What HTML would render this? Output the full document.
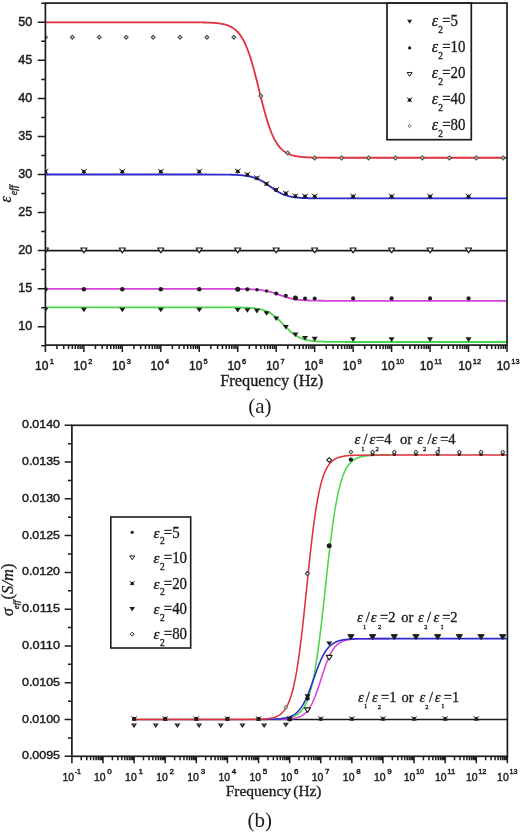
<!DOCTYPE html><html><head><meta charset="utf-8"><title>Effective permittivity and conductivity vs frequency</title><style>html,body{margin:0;padding:0;background:#fff;}svg{display:block;}</style></head><body>
<svg width="520" height="832" viewBox="0 0 520 832">
<rect width="520" height="832" fill="#fff"/>
<defs><clipPath id="ca"><rect x="45.4" y="3.1" width="461.6" height="342"/></clipPath><clipPath id="cb"><rect x="71.9" y="425.3" width="435.5" height="331"/></clipPath></defs>
<path d="M45.4,22.3 L64.63,22.3 L83.87,22.3 L103.1,22.3 L122.33,22.3 L141.57,22.3 L160.8,22.3 L180.03,22.31 L199.27,22.41 L200.04,22.42 L200.81,22.43 L201.57,22.44 L202.34,22.45 L203.11,22.47 L203.88,22.48 L204.65,22.5 L205.42,22.52 L206.19,22.54 L206.96,22.56 L207.73,22.59 L208.5,22.62 L209.27,22.65 L210.04,22.68 L210.81,22.72 L211.58,22.76 L212.35,22.8 L213.11,22.85 L213.88,22.9 L214.65,22.96 L215.42,23.02 L216.19,23.09 L216.96,23.17 L217.73,23.25 L218.5,23.34 L219.27,23.44 L220.04,23.55 L220.81,23.67 L221.58,23.8 L222.35,23.95 L223.12,24.1 L223.89,24.27 L224.65,24.46 L225.42,24.67 L226.19,24.89 L226.96,25.14 L227.73,25.4 L228.5,25.69 L229.27,26.01 L230.04,26.36 L230.81,26.74 L231.58,27.15 L232.35,27.6 L233.12,28.09 L233.89,28.62 L234.66,29.2 L235.43,29.83 L236.19,30.52 L236.96,31.26 L237.73,32.06 L238.5,32.93 L239.27,33.86 L240.04,34.87 L240.81,35.97 L241.58,37.14 L242.35,38.4 L243.12,39.75 L243.89,41.2 L244.66,42.75 L245.43,44.4 L246.2,46.16 L246.97,48.02 L247.73,50 L248.5,52.08 L249.27,54.28 L250.04,56.58 L250.81,58.99 L251.58,61.51 L252.35,64.12 L253.12,66.83 L253.89,69.63 L254.66,72.5 L255.43,75.45 L256.2,78.45 L256.97,81.5 L257.74,84.58 L258.51,87.69 L259.27,90.81 L260.04,93.92 L260.81,97.02 L261.58,100.09 L262.35,103.12 L263.12,106.09 L263.89,109 L264.66,111.84 L265.43,114.59 L266.2,117.25 L266.97,119.82 L267.74,122.28 L268.51,124.64 L269.28,126.89 L270.05,129.03 L270.81,131.06 L271.58,132.98 L272.35,134.79 L273.12,136.49 L273.89,138.09 L274.66,139.59 L275.43,140.99 L276.2,142.3 L276.97,143.52 L277.74,144.65 L278.51,145.7 L279.28,146.67 L280.05,147.58 L280.82,148.41 L281.59,149.18 L282.35,149.89 L283.12,150.55 L283.89,151.15 L284.66,151.71 L285.43,152.22 L286.2,152.69 L286.97,153.12 L287.74,153.51 L288.51,153.87 L289.28,154.21 L290.05,154.51 L290.82,154.79 L291.59,155.05 L292.36,155.28 L293.13,155.5 L293.89,155.69 L294.66,155.87 L295.43,156.04 L296.2,156.18 L296.97,156.32 L297.74,156.45 L298.51,156.56 L299.28,156.67 L300.05,156.76 L300.82,156.85 L301.59,156.93 L302.36,157 L303.13,157.07 L303.9,157.13 L304.67,157.18 L305.43,157.23 L306.2,157.28 L306.97,157.32 L307.74,157.36 L308.51,157.39 L309.28,157.43 L310.05,157.46 L310.82,157.48 L311.59,157.51 L312.36,157.53 L313.13,157.55 L313.9,157.57 L314.67,157.58 L315.44,157.6 L316.21,157.61 L316.97,157.63 L317.74,157.64 L318.51,157.65 L319.28,157.66 L320.05,157.67 L320.82,157.67 L340.05,157.75 L359.29,157.76 L378.52,157.76 L397.75,157.76 L416.99,157.76 L436.22,157.76 L455.45,157.76 L474.69,157.76 L493.92,157.76 L507,157.76" fill="none" stroke="#e0303c" stroke-width="1.8" stroke-linejoin="round" clip-path="url(#ca)"/>
<path d="M45.4,174.5 L64.63,174.5 L83.87,174.5 L103.1,174.5 L122.33,174.5 L141.57,174.5 L160.8,174.5 L180.03,174.5 L199.27,174.51 L218.5,174.55 L219.27,174.55 L220.04,174.56 L220.81,174.57 L221.58,174.57 L222.35,174.58 L223.12,174.59 L223.89,174.6 L224.65,174.6 L225.42,174.61 L226.19,174.63 L226.96,174.64 L227.73,174.65 L228.5,174.66 L229.27,174.68 L230.04,174.7 L230.81,174.72 L231.58,174.74 L232.35,174.76 L233.12,174.78 L233.89,174.81 L234.66,174.84 L235.43,174.87 L236.19,174.91 L236.96,174.95 L237.73,174.99 L238.5,175.04 L239.27,175.09 L240.04,175.14 L240.81,175.2 L241.58,175.27 L242.35,175.34 L243.12,175.42 L243.89,175.5 L244.66,175.59 L245.43,175.7 L246.2,175.8 L246.97,175.92 L247.73,176.05 L248.5,176.19 L249.27,176.34 L250.04,176.5 L250.81,176.68 L251.58,176.87 L252.35,177.07 L253.12,177.29 L253.89,177.53 L254.66,177.78 L255.43,178.05 L256.2,178.34 L256.97,178.64 L257.74,178.97 L258.51,179.31 L259.27,179.68 L260.04,180.06 L260.81,180.46 L261.58,180.89 L262.35,181.33 L263.12,181.78 L263.89,182.26 L264.66,182.75 L265.43,183.26 L266.2,183.77 L266.97,184.3 L267.74,184.84 L268.51,185.38 L269.28,185.93 L270.05,186.49 L270.81,187.04 L271.58,187.59 L272.35,188.13 L273.12,188.67 L273.89,189.2 L274.66,189.72 L275.43,190.22 L276.2,190.71 L276.97,191.19 L277.74,191.65 L278.51,192.09 L279.28,192.51 L280.05,192.91 L280.82,193.29 L281.59,193.66 L282.35,194 L283.12,194.33 L283.89,194.63 L284.66,194.92 L285.43,195.19 L286.2,195.44 L286.97,195.68 L287.74,195.9 L288.51,196.1 L289.28,196.29 L290.05,196.47 L290.82,196.63 L291.59,196.78 L292.36,196.92 L293.13,197.05 L293.89,197.17 L294.66,197.28 L295.43,197.38 L296.2,197.47 L296.97,197.55 L297.74,197.63 L298.51,197.7 L299.28,197.77 L300.05,197.83 L300.82,197.88 L301.59,197.93 L302.36,197.98 L303.13,198.02 L303.9,198.06 L304.67,198.1 L305.43,198.13 L306.2,198.16 L306.97,198.19 L307.74,198.21 L308.51,198.23 L309.28,198.25 L310.05,198.27 L310.82,198.29 L311.59,198.31 L312.36,198.32 L313.13,198.33 L313.9,198.35 L314.67,198.36 L315.44,198.37 L316.21,198.38 L316.97,198.38 L317.74,198.39 L318.51,198.4 L319.28,198.41 L320.05,198.41 L320.82,198.42 L321.59,198.42 L322.36,198.43 L323.13,198.43 L323.9,198.43 L324.67,198.44 L325.44,198.44 L326.21,198.44 L326.98,198.45 L327.75,198.45 L328.51,198.45 L329.28,198.45 L330.05,198.45 L330.82,198.45 L331.59,198.46 L332.36,198.46 L351.59,198.47 L370.83,198.47 L390.06,198.47 L409.29,198.47 L428.53,198.47 L447.76,198.47 L466.99,198.47 L486.23,198.47 L505.46,198.47 L507,198.47" fill="none" stroke="#2b2bcc" stroke-width="1.8" stroke-linejoin="round" clip-path="url(#ca)"/>
<path d="M45.4,250.6 L64.63,250.6 L83.87,250.6 L103.1,250.6 L122.33,250.6 L141.57,250.6 L160.8,250.6 L180.03,250.6 L199.27,250.6 L218.5,250.6 L219.27,250.6 L220.04,250.6 L220.81,250.6 L221.58,250.6 L222.35,250.6 L223.12,250.6 L223.89,250.6 L224.65,250.6 L225.42,250.6 L226.19,250.6 L226.96,250.6 L227.73,250.6 L228.5,250.6 L229.27,250.6 L230.04,250.6 L230.81,250.6 L231.58,250.6 L232.35,250.6 L233.12,250.6 L233.89,250.6 L234.66,250.6 L235.43,250.6 L236.19,250.6 L236.96,250.6 L237.73,250.6 L238.5,250.6 L239.27,250.6 L240.04,250.6 L240.81,250.6 L241.58,250.6 L242.35,250.6 L243.12,250.6 L243.89,250.6 L244.66,250.6 L245.43,250.6 L246.2,250.6 L246.97,250.6 L247.73,250.6 L248.5,250.6 L249.27,250.6 L250.04,250.6 L250.81,250.6 L251.58,250.6 L252.35,250.6 L253.12,250.6 L253.89,250.6 L254.66,250.6 L255.43,250.6 L256.2,250.6 L256.97,250.6 L257.74,250.6 L258.51,250.6 L259.27,250.6 L260.04,250.6 L260.81,250.6 L261.58,250.6 L262.35,250.6 L263.12,250.6 L263.89,250.6 L264.66,250.6 L265.43,250.6 L266.2,250.6 L266.97,250.6 L267.74,250.6 L268.51,250.6 L269.28,250.6 L270.05,250.6 L270.81,250.6 L271.58,250.6 L272.35,250.6 L273.12,250.6 L273.89,250.6 L274.66,250.6 L275.43,250.6 L276.2,250.6 L276.97,250.6 L277.74,250.6 L278.51,250.6 L279.28,250.6 L280.05,250.6 L280.82,250.6 L281.59,250.6 L282.35,250.6 L283.12,250.6 L283.89,250.6 L284.66,250.6 L285.43,250.6 L286.2,250.6 L286.97,250.6 L287.74,250.6 L288.51,250.6 L289.28,250.6 L290.05,250.6 L290.82,250.6 L291.59,250.6 L292.36,250.6 L293.13,250.6 L293.89,250.6 L294.66,250.6 L295.43,250.6 L296.2,250.6 L296.97,250.6 L297.74,250.6 L298.51,250.6 L299.28,250.6 L300.05,250.6 L300.82,250.6 L301.59,250.6 L302.36,250.6 L303.13,250.6 L303.9,250.6 L304.67,250.6 L305.43,250.6 L306.2,250.6 L306.97,250.6 L307.74,250.6 L308.51,250.6 L309.28,250.6 L310.05,250.6 L310.82,250.6 L311.59,250.6 L312.36,250.6 L313.13,250.6 L313.9,250.6 L314.67,250.6 L315.44,250.6 L316.21,250.6 L316.97,250.6 L317.74,250.6 L318.51,250.6 L319.28,250.6 L320.05,250.6 L320.82,250.6 L321.59,250.6 L322.36,250.6 L323.13,250.6 L323.9,250.6 L324.67,250.6 L325.44,250.6 L326.21,250.6 L326.98,250.6 L327.75,250.6 L328.51,250.6 L329.28,250.6 L330.05,250.6 L330.82,250.6 L331.59,250.6 L332.36,250.6 L333.13,250.6 L333.9,250.6 L334.67,250.6 L335.44,250.6 L336.21,250.6 L336.98,250.6 L337.75,250.6 L338.52,250.6 L357.75,250.6 L376.98,250.6 L396.22,250.6 L415.45,250.6 L434.68,250.6 L453.92,250.6 L473.15,250.6 L492.38,250.6 L507,250.6" fill="none" stroke="#1c1c1c" stroke-width="1.8" stroke-linejoin="round" clip-path="url(#ca)"/>
<path d="M45.4,288.88 L64.63,288.88 L83.87,288.88 L103.1,288.88 L122.33,288.88 L141.57,288.88 L160.8,288.88 L180.03,288.88 L199.27,288.88 L218.5,288.89 L219.27,288.89 L220.04,288.89 L220.81,288.89 L221.58,288.89 L222.35,288.89 L223.12,288.89 L223.89,288.89 L224.65,288.9 L225.42,288.9 L226.19,288.9 L226.96,288.9 L227.73,288.9 L228.5,288.91 L229.27,288.91 L230.04,288.91 L230.81,288.91 L231.58,288.92 L232.35,288.92 L233.12,288.93 L233.89,288.93 L234.66,288.94 L235.43,288.94 L236.19,288.95 L236.96,288.95 L237.73,288.96 L238.5,288.97 L239.27,288.98 L240.04,288.99 L240.81,289 L241.58,289.01 L242.35,289.02 L243.12,289.03 L243.89,289.05 L244.66,289.06 L245.43,289.08 L246.2,289.1 L246.97,289.12 L247.73,289.15 L248.5,289.17 L249.27,289.2 L250.04,289.23 L250.81,289.26 L251.58,289.3 L252.35,289.34 L253.12,289.38 L253.89,289.42 L254.66,289.47 L255.43,289.53 L256.2,289.59 L256.97,289.65 L257.74,289.72 L258.51,289.8 L259.27,289.88 L260.04,289.96 L260.81,290.06 L261.58,290.16 L262.35,290.27 L263.12,290.39 L263.89,290.51 L264.66,290.65 L265.43,290.79 L266.2,290.94 L266.97,291.11 L267.74,291.28 L268.51,291.46 L269.28,291.65 L270.05,291.85 L270.81,292.06 L271.58,292.28 L272.35,292.51 L273.12,292.75 L273.89,292.99 L274.66,293.24 L275.43,293.5 L276.2,293.76 L276.97,294.03 L277.74,294.3 L278.51,294.58 L279.28,294.85 L280.05,295.13 L280.82,295.4 L281.59,295.67 L282.35,295.94 L283.12,296.2 L283.89,296.46 L284.66,296.71 L285.43,296.96 L286.2,297.2 L286.97,297.42 L287.74,297.64 L288.51,297.85 L289.28,298.05 L290.05,298.25 L290.82,298.43 L291.59,298.6 L292.36,298.76 L293.13,298.91 L293.89,299.06 L294.66,299.19 L295.43,299.32 L296.2,299.43 L296.97,299.54 L297.74,299.65 L298.51,299.74 L299.28,299.83 L300.05,299.91 L300.82,299.98 L301.59,300.05 L302.36,300.12 L303.13,300.18 L303.9,300.23 L304.67,300.28 L305.43,300.33 L306.2,300.37 L306.97,300.41 L307.74,300.44 L308.51,300.48 L309.28,300.51 L310.05,300.53 L310.82,300.56 L311.59,300.58 L312.36,300.6 L313.13,300.62 L313.9,300.64 L314.67,300.66 L315.44,300.67 L316.21,300.68 L316.97,300.7 L317.74,300.71 L318.51,300.72 L319.28,300.73 L320.05,300.74 L320.82,300.74 L321.59,300.75 L322.36,300.76 L323.13,300.76 L323.9,300.77 L324.67,300.77 L325.44,300.78 L326.21,300.78 L326.98,300.79 L327.75,300.79 L328.51,300.79 L329.28,300.8 L330.05,300.8 L330.82,300.8 L331.59,300.8 L332.36,300.81 L333.13,300.81 L333.9,300.81 L334.67,300.81 L335.44,300.81 L336.21,300.81 L336.98,300.81 L337.75,300.82 L338.52,300.82 L339.29,300.82 L340.05,300.82 L340.82,300.82 L341.59,300.82 L360.83,300.83 L380.06,300.83 L399.29,300.83 L418.53,300.83 L437.76,300.83 L456.99,300.83 L476.23,300.83 L495.46,300.83 L507,300.83" fill="none" stroke="#d444d8" stroke-width="1.8" stroke-linejoin="round" clip-path="url(#ca)"/>
<path d="M45.4,307.29 L64.63,307.29 L83.87,307.29 L103.1,307.29 L122.33,307.29 L141.57,307.29 L160.8,307.29 L180.03,307.29 L199.27,307.3 L218.5,307.31 L237.73,307.44 L238.5,307.45 L239.27,307.47 L240.04,307.48 L240.81,307.5 L241.58,307.52 L242.35,307.54 L243.12,307.57 L243.89,307.59 L244.66,307.62 L245.43,307.65 L246.2,307.69 L246.97,307.73 L247.73,307.77 L248.5,307.81 L249.27,307.86 L250.04,307.91 L250.81,307.97 L251.58,308.04 L252.35,308.11 L253.12,308.18 L253.89,308.27 L254.66,308.36 L255.43,308.46 L256.2,308.57 L256.97,308.68 L257.74,308.81 L258.51,308.95 L259.27,309.1 L260.04,309.27 L260.81,309.45 L261.58,309.64 L262.35,309.85 L263.12,310.07 L263.89,310.32 L264.66,310.58 L265.43,310.87 L266.2,311.17 L266.97,311.5 L267.74,311.86 L268.51,312.23 L269.28,312.64 L270.05,313.07 L270.81,313.52 L271.58,314.01 L272.35,314.52 L273.12,315.06 L273.89,315.63 L274.66,316.23 L275.43,316.85 L276.2,317.5 L276.97,318.18 L277.74,318.88 L278.51,319.6 L279.28,320.34 L280.05,321.1 L280.82,321.87 L281.59,322.66 L282.35,323.45 L283.12,324.25 L283.89,325.04 L284.66,325.84 L285.43,326.63 L286.2,327.42 L286.97,328.19 L287.74,328.95 L288.51,329.69 L289.28,330.41 L290.05,331.11 L290.82,331.79 L291.59,332.44 L292.36,333.06 L293.13,333.66 L293.89,334.23 L294.66,334.77 L295.43,335.28 L296.2,335.77 L296.97,336.22 L297.74,336.65 L298.51,337.06 L299.28,337.43 L300.05,337.79 L300.82,338.12 L301.59,338.42 L302.36,338.71 L303.13,338.97 L303.9,339.22 L304.67,339.44 L305.43,339.65 L306.2,339.85 L306.97,340.02 L307.74,340.19 L308.51,340.34 L309.28,340.48 L310.05,340.61 L310.82,340.73 L311.59,340.83 L312.36,340.93 L313.13,341.02 L313.9,341.11 L314.67,341.18 L315.44,341.25 L316.21,341.32 L316.97,341.38 L317.74,341.43 L318.51,341.48 L319.28,341.52 L320.05,341.56 L320.82,341.6 L321.59,341.64 L322.36,341.67 L323.13,341.7 L323.9,341.72 L324.67,341.75 L325.44,341.77 L326.21,341.79 L326.98,341.81 L327.75,341.82 L328.51,341.84 L329.28,341.85 L330.05,341.86 L330.82,341.88 L331.59,341.89 L332.36,341.9 L333.13,341.91 L333.9,341.91 L334.67,341.92 L335.44,341.93 L336.21,341.93 L336.98,341.94 L337.75,341.94 L338.52,341.95 L339.29,341.95 L340.05,341.96 L340.82,341.96 L341.59,341.96 L342.36,341.97 L343.13,341.97 L343.9,341.97 L344.67,341.97 L345.44,341.98 L364.67,341.99 L383.91,342 L403.14,342 L422.37,342 L441.61,342 L460.84,342 L480.07,342 L499.31,342 L507,342" fill="none" stroke="#4ad64a" stroke-width="1.8" stroke-linejoin="round" clip-path="url(#ca)"/>
<g clip-path="url(#ca)">
<polygon points="45.4,35.35 47.25,37.2 45.4,39.05 43.55,37.2" fill="#fff" stroke="#555" stroke-width="1.25"/>
<polygon points="72.33,35.35 74.18,37.2 72.33,39.05 70.48,37.2" fill="#fff" stroke="#555" stroke-width="1.25"/>
<polygon points="99.25,35.35 101.1,37.2 99.25,39.05 97.4,37.2" fill="#fff" stroke="#555" stroke-width="1.25"/>
<polygon points="126.18,35.35 128.03,37.2 126.18,39.05 124.33,37.2" fill="#fff" stroke="#555" stroke-width="1.25"/>
<polygon points="153.11,35.35 154.96,37.2 153.11,39.05 151.26,37.2" fill="#fff" stroke="#555" stroke-width="1.25"/>
<polygon points="180.03,35.35 181.88,37.2 180.03,39.05 178.18,37.2" fill="#fff" stroke="#555" stroke-width="1.25"/>
<polygon points="206.96,35.35 208.81,37.2 206.96,39.05 205.11,37.2" fill="#fff" stroke="#555" stroke-width="1.25"/>
<polygon points="233.89,35.35 235.74,37.2 233.89,39.05 232.04,37.2" fill="#fff" stroke="#555" stroke-width="1.25"/>
<polygon points="260.81,94.15 262.66,96 260.81,97.85 258.96,96" fill="#fff" stroke="#555" stroke-width="1.25"/>
<polygon points="287.74,151.15 289.59,153 287.74,154.85 285.89,153" fill="#fff" stroke="#555" stroke-width="1.25"/>
<polygon points="314.67,156.05 316.52,157.9 314.67,159.75 312.82,157.9" fill="#fff" stroke="#555" stroke-width="1.25"/>
<polygon points="341.59,156.05 343.44,157.9 341.59,159.75 339.74,157.9" fill="#fff" stroke="#555" stroke-width="1.25"/>
<polygon points="368.52,156.05 370.37,157.9 368.52,159.75 366.67,157.9" fill="#fff" stroke="#555" stroke-width="1.25"/>
<polygon points="395.45,156.05 397.3,157.9 395.45,159.75 393.6,157.9" fill="#fff" stroke="#555" stroke-width="1.25"/>
<polygon points="422.37,156.05 424.22,157.9 422.37,159.75 420.52,157.9" fill="#fff" stroke="#555" stroke-width="1.25"/>
<polygon points="449.3,156.05 451.15,157.9 449.3,159.75 447.45,157.9" fill="#fff" stroke="#555" stroke-width="1.25"/>
<polygon points="476.23,156.05 478.08,157.9 476.23,159.75 474.38,157.9" fill="#fff" stroke="#555" stroke-width="1.25"/>
<polygon points="503.15,156.05 505,157.9 503.15,159.75 501.3,157.9" fill="#fff" stroke="#555" stroke-width="1.25"/>
<path d="M42.5,169L45.4,171.4L48.3,169M43,173.3L45.4,171.4L47.8,173.3" stroke="#1c1c1c" stroke-width="1" fill="none"/><ellipse cx="45.4" cy="171.7" rx="1.8" ry="2" fill="#1c1c1c"/>
<path d="M80.97,169L83.87,171.4L86.77,169M81.47,173.3L83.87,171.4L86.27,173.3" stroke="#1c1c1c" stroke-width="1" fill="none"/><ellipse cx="83.87" cy="171.7" rx="1.8" ry="2" fill="#1c1c1c"/>
<path d="M119.43,169L122.33,171.4L125.23,169M119.93,173.3L122.33,171.4L124.73,173.3" stroke="#1c1c1c" stroke-width="1" fill="none"/><ellipse cx="122.33" cy="171.7" rx="1.8" ry="2" fill="#1c1c1c"/>
<path d="M157.9,169L160.8,171.4L163.7,169M158.4,173.3L160.8,171.4L163.2,173.3" stroke="#1c1c1c" stroke-width="1" fill="none"/><ellipse cx="160.8" cy="171.7" rx="1.8" ry="2" fill="#1c1c1c"/>
<path d="M196.37,169L199.27,171.4L202.17,169M196.87,173.3L199.27,171.4L201.67,173.3" stroke="#1c1c1c" stroke-width="1" fill="none"/><ellipse cx="199.27" cy="171.7" rx="1.8" ry="2" fill="#1c1c1c"/>
<path d="M234.83,168.8L237.73,171.2L240.63,168.8M235.33,173.1L237.73,171.2L240.13,173.1" stroke="#1c1c1c" stroke-width="1" fill="none"/><ellipse cx="237.73" cy="171.5" rx="1.8" ry="2" fill="#1c1c1c"/>
<path d="M244.45,172L247.35,174.4L250.25,172M244.95,176.3L247.35,174.4L249.75,176.3" stroke="#1c1c1c" stroke-width="1" fill="none"/><ellipse cx="247.35" cy="174.7" rx="1.8" ry="2" fill="#1c1c1c"/>
<path d="M254.07,175.6L256.97,178L259.87,175.6M254.57,179.9L256.97,178L259.37,179.9" stroke="#1c1c1c" stroke-width="1" fill="none"/><ellipse cx="256.97" cy="178.3" rx="1.8" ry="2" fill="#1c1c1c"/>
<path d="M263.68,181.3L266.58,183.7L269.48,181.3M264.18,185.6L266.58,183.7L268.98,185.6" stroke="#1c1c1c" stroke-width="1" fill="none"/><ellipse cx="266.58" cy="184" rx="1.8" ry="2" fill="#1c1c1c"/>
<path d="M273.3,187.2L276.2,189.6L279.1,187.2M273.8,191.5L276.2,189.6L278.6,191.5" stroke="#1c1c1c" stroke-width="1" fill="none"/><ellipse cx="276.2" cy="189.9" rx="1.8" ry="2" fill="#1c1c1c"/>
<path d="M282.92,190.8L285.82,193.2L288.72,190.8M283.42,195.1L285.82,193.2L288.22,195.1" stroke="#1c1c1c" stroke-width="1" fill="none"/><ellipse cx="285.82" cy="193.5" rx="1.8" ry="2" fill="#1c1c1c"/>
<path d="M292.53,193.6L295.43,196L298.33,193.6M293.03,197.9L295.43,196L297.83,197.9" stroke="#1c1c1c" stroke-width="1" fill="none"/><ellipse cx="295.43" cy="196.3" rx="1.8" ry="2" fill="#1c1c1c"/>
<path d="M302.15,193.8L305.05,196.2L307.95,193.8M302.65,198.1L305.05,196.2L307.45,198.1" stroke="#1c1c1c" stroke-width="1" fill="none"/><ellipse cx="305.05" cy="196.5" rx="1.8" ry="2" fill="#1c1c1c"/>
<path d="M311.77,193.9L314.67,196.3L317.57,193.9M312.27,198.2L314.67,196.3L317.07,198.2" stroke="#1c1c1c" stroke-width="1" fill="none"/><ellipse cx="314.67" cy="196.6" rx="1.8" ry="2" fill="#1c1c1c"/>
<path d="M350.23,193.9L353.13,196.3L356.03,193.9M350.73,198.2L353.13,196.3L355.53,198.2" stroke="#1c1c1c" stroke-width="1" fill="none"/><ellipse cx="353.13" cy="196.6" rx="1.8" ry="2" fill="#1c1c1c"/>
<path d="M388.7,193.9L391.6,196.3L394.5,193.9M389.2,198.2L391.6,196.3L394,198.2" stroke="#1c1c1c" stroke-width="1" fill="none"/><ellipse cx="391.6" cy="196.6" rx="1.8" ry="2" fill="#1c1c1c"/>
<path d="M427.17,193.9L430.07,196.3L432.97,193.9M427.67,198.2L430.07,196.3L432.47,198.2" stroke="#1c1c1c" stroke-width="1" fill="none"/><ellipse cx="430.07" cy="196.6" rx="1.8" ry="2" fill="#1c1c1c"/>
<path d="M465.63,193.9L468.53,196.3L471.43,193.9M466.13,198.2L468.53,196.3L470.93,198.2" stroke="#1c1c1c" stroke-width="1" fill="none"/><ellipse cx="468.53" cy="196.6" rx="1.8" ry="2" fill="#1c1c1c"/>
<polygon points="42.3,248 48.5,248 45.4,252.8" fill="#fff" stroke="#1c1c1c" stroke-width="1.2" stroke-linejoin="round"/>
<polygon points="80.77,248 86.97,248 83.87,252.8" fill="#fff" stroke="#1c1c1c" stroke-width="1.2" stroke-linejoin="round"/>
<polygon points="119.23,248 125.43,248 122.33,252.8" fill="#fff" stroke="#1c1c1c" stroke-width="1.2" stroke-linejoin="round"/>
<polygon points="157.7,248 163.9,248 160.8,252.8" fill="#fff" stroke="#1c1c1c" stroke-width="1.2" stroke-linejoin="round"/>
<polygon points="196.17,248 202.37,248 199.27,252.8" fill="#fff" stroke="#1c1c1c" stroke-width="1.2" stroke-linejoin="round"/>
<polygon points="234.63,248 240.83,248 237.73,252.8" fill="#fff" stroke="#1c1c1c" stroke-width="1.2" stroke-linejoin="round"/>
<polygon points="273.1,248 279.3,248 276.2,252.8" fill="#fff" stroke="#1c1c1c" stroke-width="1.2" stroke-linejoin="round"/>
<polygon points="311.57,248 317.77,248 314.67,252.8" fill="#fff" stroke="#1c1c1c" stroke-width="1.2" stroke-linejoin="round"/>
<polygon points="350.03,248 356.23,248 353.13,252.8" fill="#fff" stroke="#1c1c1c" stroke-width="1.2" stroke-linejoin="round"/>
<polygon points="388.5,248 394.7,248 391.6,252.8" fill="#fff" stroke="#1c1c1c" stroke-width="1.2" stroke-linejoin="round"/>
<polygon points="426.97,248 433.17,248 430.07,252.8" fill="#fff" stroke="#1c1c1c" stroke-width="1.2" stroke-linejoin="round"/>
<polygon points="465.43,248 471.63,248 468.53,252.8" fill="#fff" stroke="#1c1c1c" stroke-width="1.2" stroke-linejoin="round"/>
<circle cx="45.4" cy="289.3" r="2.2" fill="#1c1c1c"/>
<circle cx="83.87" cy="289.3" r="2.2" fill="#1c1c1c"/>
<circle cx="122.33" cy="289.3" r="2.2" fill="#1c1c1c"/>
<circle cx="160.8" cy="289.3" r="2.2" fill="#1c1c1c"/>
<circle cx="199.27" cy="289.3" r="2.2" fill="#1c1c1c"/>
<circle cx="237.73" cy="289.3" r="2.5" fill="#1c1c1c"/>
<circle cx="247.35" cy="289.3" r="2.1" fill="#1c1c1c"/>
<circle cx="256.97" cy="289.8" r="1.7" fill="#1c1c1c"/>
<circle cx="266.58" cy="291" r="1.7" fill="#1c1c1c"/>
<circle cx="276.2" cy="293.6" r="2.0" fill="#1c1c1c"/>
<circle cx="285.82" cy="295.8" r="2.0" fill="#1c1c1c"/>
<circle cx="295.43" cy="297.9" r="2.5" fill="#1c1c1c"/>
<circle cx="305.05" cy="298.6" r="2.0" fill="#1c1c1c"/>
<circle cx="314.67" cy="298.6" r="2.0" fill="#1c1c1c"/>
<circle cx="353.13" cy="298.4" r="2.1" fill="#1c1c1c"/>
<circle cx="391.6" cy="298.4" r="2.1" fill="#1c1c1c"/>
<circle cx="430.07" cy="298.4" r="2.1" fill="#1c1c1c"/>
<circle cx="468.53" cy="298.4" r="2.1" fill="#1c1c1c"/>
<polygon points="42.4,307.68 48.4,307.68 45.4,312.32" fill="#1c1c1c"/>
<polygon points="80.87,307.68 86.87,307.68 83.87,312.32" fill="#1c1c1c"/>
<polygon points="119.33,307.68 125.33,307.68 122.33,312.32" fill="#1c1c1c"/>
<polygon points="157.8,307.68 163.8,307.68 160.8,312.32" fill="#1c1c1c"/>
<polygon points="196.27,307.68 202.27,307.68 199.27,312.32" fill="#1c1c1c"/>
<polygon points="234.73,307.98 240.73,307.98 237.73,312.62" fill="#1c1c1c"/>
<polygon points="244.35,308.18 250.35,308.18 247.35,312.82" fill="#1c1c1c"/>
<polygon points="253.97,308.78 259.97,308.78 256.97,313.43" fill="#1c1c1c"/>
<polygon points="263.58,311.18 269.58,311.18 266.58,315.82" fill="#1c1c1c"/>
<polygon points="273.2,316.38 279.2,316.38 276.2,321.02" fill="#1c1c1c"/>
<polygon points="282.82,324.98 288.82,324.98 285.82,329.62" fill="#1c1c1c"/>
<polygon points="292.43,332.48 298.43,332.48 295.43,337.12" fill="#1c1c1c"/>
<polygon points="302.05,335.88 308.05,335.88 305.05,340.52" fill="#1c1c1c"/>
<polygon points="311.67,336.78 317.67,336.78 314.67,341.43" fill="#1c1c1c"/>
<polygon points="350.13,337.28 356.13,337.28 353.13,341.93" fill="#1c1c1c"/>
<polygon points="388.6,337.28 394.6,337.28 391.6,341.93" fill="#1c1c1c"/>
<polygon points="427.07,337.28 433.07,337.28 430.07,341.93" fill="#1c1c1c"/>
<polygon points="465.53,337.28 471.53,337.28 468.53,341.93" fill="#1c1c1c"/>
</g>
<rect x="45.4" y="3.1" width="461.6" height="342" fill="none" stroke="#1c1c1c" stroke-width="1.7"/>
<path d="M41.2,345.73H45.4 M41.2,307.68H45.4 M41.2,269.62H45.4 M41.2,231.58H45.4 M41.2,193.53H45.4 M41.2,155.48H45.4 M41.2,117.42H45.4 M41.2,79.38H45.4 M41.2,41.33H45.4 M41.2,3.27H45.4 M37.7,326.7H45.4 M37.7,288.65H45.4 M37.7,250.6H45.4 M37.7,212.55H45.4 M37.7,174.5H45.4 M37.7,136.45H45.4 M37.7,98.4H45.4 M37.7,60.35H45.4 M37.7,22.3H45.4 M45.4,345.1V352.1 M56.98,345.1V349.1 M63.75,345.1V349.1 M68.56,345.1V349.1 M72.29,345.1V349.1 M75.33,345.1V349.1 M77.91,345.1V349.1 M80.14,345.1V349.1 M82.11,345.1V349.1 M83.87,345.1V352.1 M95.45,345.1V349.1 M102.22,345.1V349.1 M107.03,345.1V349.1 M110.75,345.1V349.1 M113.8,345.1V349.1 M116.37,345.1V349.1 M118.61,345.1V349.1 M120.57,345.1V349.1 M122.33,345.1V352.1 M133.91,345.1V349.1 M140.69,345.1V349.1 M145.49,345.1V349.1 M149.22,345.1V349.1 M152.27,345.1V349.1 M154.84,345.1V349.1 M157.07,345.1V349.1 M159.04,345.1V349.1 M160.8,345.1V352.1 M172.38,345.1V349.1 M179.15,345.1V349.1 M183.96,345.1V349.1 M187.69,345.1V349.1 M190.73,345.1V349.1 M193.31,345.1V349.1 M195.54,345.1V349.1 M197.51,345.1V349.1 M199.27,345.1V352.1 M210.85,345.1V349.1 M217.62,345.1V349.1 M222.43,345.1V349.1 M226.15,345.1V349.1 M229.2,345.1V349.1 M231.77,345.1V349.1 M234.01,345.1V349.1 M235.97,345.1V349.1 M237.73,345.1V352.1 M249.31,345.1V349.1 M256.09,345.1V349.1 M260.89,345.1V349.1 M264.62,345.1V349.1 M267.67,345.1V349.1 M270.24,345.1V349.1 M272.47,345.1V349.1 M274.44,345.1V349.1 M276.2,345.1V352.1 M287.78,345.1V349.1 M294.55,345.1V349.1 M299.36,345.1V349.1 M303.09,345.1V349.1 M306.13,345.1V349.1 M308.71,345.1V349.1 M310.94,345.1V349.1 M312.91,345.1V349.1 M314.67,345.1V352.1 M326.25,345.1V349.1 M333.02,345.1V349.1 M337.83,345.1V349.1 M341.55,345.1V349.1 M344.6,345.1V349.1 M347.17,345.1V349.1 M349.41,345.1V349.1 M351.37,345.1V349.1 M353.13,345.1V352.1 M364.71,345.1V349.1 M371.49,345.1V349.1 M376.29,345.1V349.1 M380.02,345.1V349.1 M383.07,345.1V349.1 M385.64,345.1V349.1 M387.87,345.1V349.1 M389.84,345.1V349.1 M391.6,345.1V352.1 M403.18,345.1V349.1 M409.95,345.1V349.1 M414.76,345.1V349.1 M418.49,345.1V349.1 M421.53,345.1V349.1 M424.11,345.1V349.1 M426.34,345.1V349.1 M428.31,345.1V349.1 M430.07,345.1V352.1 M441.65,345.1V349.1 M448.42,345.1V349.1 M453.23,345.1V349.1 M456.95,345.1V349.1 M460,345.1V349.1 M462.57,345.1V349.1 M464.81,345.1V349.1 M466.77,345.1V349.1 M468.53,345.1V352.1 M480.11,345.1V349.1 M486.89,345.1V349.1 M491.69,345.1V349.1 M495.42,345.1V349.1 M498.47,345.1V349.1 M501.04,345.1V349.1 M503.27,345.1V349.1 M505.24,345.1V349.1 M507,345.1V352.1" stroke="#1c1c1c" stroke-width="1.5" fill="none"/>
<text x="32.2" y="330.1" font-family="'Liberation Sans', Arial, sans-serif" font-size="12.6" text-anchor="end" fill="#1c1c1c" stroke="#1c1c1c" stroke-width="0.45">10</text>
<text x="32.2" y="292.05" font-family="'Liberation Sans', Arial, sans-serif" font-size="12.6" text-anchor="end" fill="#1c1c1c" stroke="#1c1c1c" stroke-width="0.45">15</text>
<text x="32.2" y="254" font-family="'Liberation Sans', Arial, sans-serif" font-size="12.6" text-anchor="end" fill="#1c1c1c" stroke="#1c1c1c" stroke-width="0.45">20</text>
<text x="32.2" y="215.95" font-family="'Liberation Sans', Arial, sans-serif" font-size="12.6" text-anchor="end" fill="#1c1c1c" stroke="#1c1c1c" stroke-width="0.45">25</text>
<text x="32.2" y="177.9" font-family="'Liberation Sans', Arial, sans-serif" font-size="12.6" text-anchor="end" fill="#1c1c1c" stroke="#1c1c1c" stroke-width="0.45">30</text>
<text x="32.2" y="139.85" font-family="'Liberation Sans', Arial, sans-serif" font-size="12.6" text-anchor="end" fill="#1c1c1c" stroke="#1c1c1c" stroke-width="0.45">35</text>
<text x="32.2" y="101.8" font-family="'Liberation Sans', Arial, sans-serif" font-size="12.6" text-anchor="end" fill="#1c1c1c" stroke="#1c1c1c" stroke-width="0.45">40</text>
<text x="32.2" y="63.75" font-family="'Liberation Sans', Arial, sans-serif" font-size="12.6" text-anchor="end" fill="#1c1c1c" stroke="#1c1c1c" stroke-width="0.45">45</text>
<text x="32.2" y="25.7" font-family="'Liberation Sans', Arial, sans-serif" font-size="12.6" text-anchor="end" fill="#1c1c1c" stroke="#1c1c1c" stroke-width="0.45">50</text>
<text x="35.1" y="370.3" font-family="'Liberation Sans', Arial, sans-serif" font-size="12" text-anchor="start" fill="#1c1c1c" stroke="#1c1c1c" stroke-width="0.45">10</text>
<text x="49.7" y="364.2" font-family="'Liberation Sans', Arial, sans-serif" font-size="7.4" text-anchor="start" fill="#1c1c1c" stroke="#1c1c1c" stroke-width="0.45">1</text>
<text x="73.57" y="370.3" font-family="'Liberation Sans', Arial, sans-serif" font-size="12" text-anchor="start" fill="#1c1c1c" stroke="#1c1c1c" stroke-width="0.45">10</text>
<text x="88.17" y="364.2" font-family="'Liberation Sans', Arial, sans-serif" font-size="7.4" text-anchor="start" fill="#1c1c1c" stroke="#1c1c1c" stroke-width="0.45">2</text>
<text x="112.03" y="370.3" font-family="'Liberation Sans', Arial, sans-serif" font-size="12" text-anchor="start" fill="#1c1c1c" stroke="#1c1c1c" stroke-width="0.45">10</text>
<text x="126.63" y="364.2" font-family="'Liberation Sans', Arial, sans-serif" font-size="7.4" text-anchor="start" fill="#1c1c1c" stroke="#1c1c1c" stroke-width="0.45">3</text>
<text x="150.5" y="370.3" font-family="'Liberation Sans', Arial, sans-serif" font-size="12" text-anchor="start" fill="#1c1c1c" stroke="#1c1c1c" stroke-width="0.45">10</text>
<text x="165.1" y="364.2" font-family="'Liberation Sans', Arial, sans-serif" font-size="7.4" text-anchor="start" fill="#1c1c1c" stroke="#1c1c1c" stroke-width="0.45">4</text>
<text x="188.97" y="370.3" font-family="'Liberation Sans', Arial, sans-serif" font-size="12" text-anchor="start" fill="#1c1c1c" stroke="#1c1c1c" stroke-width="0.45">10</text>
<text x="203.57" y="364.2" font-family="'Liberation Sans', Arial, sans-serif" font-size="7.4" text-anchor="start" fill="#1c1c1c" stroke="#1c1c1c" stroke-width="0.45">5</text>
<text x="227.43" y="370.3" font-family="'Liberation Sans', Arial, sans-serif" font-size="12" text-anchor="start" fill="#1c1c1c" stroke="#1c1c1c" stroke-width="0.45">10</text>
<text x="242.03" y="364.2" font-family="'Liberation Sans', Arial, sans-serif" font-size="7.4" text-anchor="start" fill="#1c1c1c" stroke="#1c1c1c" stroke-width="0.45">6</text>
<text x="265.9" y="370.3" font-family="'Liberation Sans', Arial, sans-serif" font-size="12" text-anchor="start" fill="#1c1c1c" stroke="#1c1c1c" stroke-width="0.45">10</text>
<text x="280.5" y="364.2" font-family="'Liberation Sans', Arial, sans-serif" font-size="7.4" text-anchor="start" fill="#1c1c1c" stroke="#1c1c1c" stroke-width="0.45">7</text>
<text x="304.37" y="370.3" font-family="'Liberation Sans', Arial, sans-serif" font-size="12" text-anchor="start" fill="#1c1c1c" stroke="#1c1c1c" stroke-width="0.45">10</text>
<text x="318.97" y="364.2" font-family="'Liberation Sans', Arial, sans-serif" font-size="7.4" text-anchor="start" fill="#1c1c1c" stroke="#1c1c1c" stroke-width="0.45">8</text>
<text x="342.83" y="370.3" font-family="'Liberation Sans', Arial, sans-serif" font-size="12" text-anchor="start" fill="#1c1c1c" stroke="#1c1c1c" stroke-width="0.45">10</text>
<text x="357.43" y="364.2" font-family="'Liberation Sans', Arial, sans-serif" font-size="7.4" text-anchor="start" fill="#1c1c1c" stroke="#1c1c1c" stroke-width="0.45">9</text>
<text x="381.3" y="370.3" font-family="'Liberation Sans', Arial, sans-serif" font-size="12" text-anchor="start" fill="#1c1c1c" stroke="#1c1c1c" stroke-width="0.45">10</text>
<text x="395.9" y="364.2" font-family="'Liberation Sans', Arial, sans-serif" font-size="7.4" text-anchor="start" fill="#1c1c1c" stroke="#1c1c1c" stroke-width="0.45">10</text>
<text x="419.77" y="370.3" font-family="'Liberation Sans', Arial, sans-serif" font-size="12" text-anchor="start" fill="#1c1c1c" stroke="#1c1c1c" stroke-width="0.45">10</text>
<text x="434.37" y="364.2" font-family="'Liberation Sans', Arial, sans-serif" font-size="7.4" text-anchor="start" fill="#1c1c1c" stroke="#1c1c1c" stroke-width="0.45">11</text>
<text x="458.23" y="370.3" font-family="'Liberation Sans', Arial, sans-serif" font-size="12" text-anchor="start" fill="#1c1c1c" stroke="#1c1c1c" stroke-width="0.45">10</text>
<text x="472.83" y="364.2" font-family="'Liberation Sans', Arial, sans-serif" font-size="7.4" text-anchor="start" fill="#1c1c1c" stroke="#1c1c1c" stroke-width="0.45">12</text>
<text x="496.7" y="370.3" font-family="'Liberation Sans', Arial, sans-serif" font-size="12" text-anchor="start" fill="#1c1c1c" stroke="#1c1c1c" stroke-width="0.45">10</text>
<text x="511.3" y="364.2" font-family="'Liberation Sans', Arial, sans-serif" font-size="7.4" text-anchor="start" fill="#1c1c1c" stroke="#1c1c1c" stroke-width="0.45">13</text>
<text x="220.3" y="385.5" font-family="'Liberation Serif', 'Times New Roman', serif" font-size="16" text-anchor="start" fill="#1c1c1c" textLength="102.8" lengthAdjust="spacingAndGlyphs" stroke="#1c1c1c" stroke-width="0.33">Frequency (Hz)</text>
<text x="259.8" y="412.8" font-family="'Liberation Serif', 'Times New Roman', serif" font-size="21" text-anchor="middle" fill="#1c1c1c">(a)</text>
<g transform="translate(10.8,202.5) rotate(-90)"><text x="0" y="0" font-family="'Liberation Serif', 'Times New Roman', serif" font-size="16" text-anchor="start" fill="#1c1c1c" font-style="italic" stroke="#1c1c1c" stroke-width="0.33">ε</text><text x="7.2" y="6.5" font-family="'Liberation Serif', 'Times New Roman', serif" font-size="10" text-anchor="start" fill="#1c1c1c" font-style="italic" stroke="#1c1c1c" stroke-width="0.33">eff</text></g>
<rect x="387" y="3.1" width="84.3" height="136.6" fill="#fff" stroke="#1c1c1c" stroke-width="1.7"/>
<polygon points="407.1,19.86 412.1,19.86 409.6,23.74" fill="#1c1c1c"/>
<text x="431.8" y="25.8" font-family="'Liberation Serif', 'Times New Roman', serif" font-size="16" text-anchor="start" fill="#1c1c1c" font-style="italic" stroke="#1c1c1c" stroke-width="0.33">ε</text>
<text x="438.3" y="32.8" font-family="'Liberation Serif', 'Times New Roman', serif" font-size="9.5" text-anchor="start" fill="#1c1c1c" stroke="#1c1c1c" stroke-width="0.33">2</text>
<text x="442.2" y="25.8" font-family="'Liberation Serif', 'Times New Roman', serif" font-size="16" text-anchor="start" fill="#1c1c1c" textLength="15.83" lengthAdjust="spacingAndGlyphs" stroke="#1c1c1c" stroke-width="0.33">=5</text>
<circle cx="409.6" cy="47.9" r="1.6" fill="#1c1c1c"/>
<text x="431.8" y="51.9" font-family="'Liberation Serif', 'Times New Roman', serif" font-size="16" text-anchor="start" fill="#1c1c1c" font-style="italic" stroke="#1c1c1c" stroke-width="0.33">ε</text>
<text x="438.3" y="58.9" font-family="'Liberation Serif', 'Times New Roman', serif" font-size="9.5" text-anchor="start" fill="#1c1c1c" stroke="#1c1c1c" stroke-width="0.33">2</text>
<text x="442.2" y="51.9" font-family="'Liberation Serif', 'Times New Roman', serif" font-size="16" text-anchor="start" fill="#1c1c1c" textLength="23.27" lengthAdjust="spacingAndGlyphs" stroke="#1c1c1c" stroke-width="0.33">=10</text>
<polygon points="407.1,72.46 412.1,72.46 409.6,76.34" fill="#fff" stroke="#1c1c1c" stroke-width="1.0" stroke-linejoin="round"/>
<text x="431.8" y="78.4" font-family="'Liberation Serif', 'Times New Roman', serif" font-size="16" text-anchor="start" fill="#1c1c1c" font-style="italic" stroke="#1c1c1c" stroke-width="0.33">ε</text>
<text x="438.3" y="85.4" font-family="'Liberation Serif', 'Times New Roman', serif" font-size="9.5" text-anchor="start" fill="#1c1c1c" stroke="#1c1c1c" stroke-width="0.33">2</text>
<text x="442.2" y="78.4" font-family="'Liberation Serif', 'Times New Roman', serif" font-size="16" text-anchor="start" fill="#1c1c1c" textLength="23.27" lengthAdjust="spacingAndGlyphs" stroke="#1c1c1c" stroke-width="0.33">=20</text>
<path d="M406.85,97.52L409.6,99.8L412.36,97.52M407.32,101.61L409.6,99.8L411.88,101.61" stroke="#1c1c1c" stroke-width="0.95" fill="none"/><ellipse cx="409.6" cy="100.08" rx="1.71" ry="1.9" fill="#1c1c1c"/>
<text x="431.8" y="103.8" font-family="'Liberation Serif', 'Times New Roman', serif" font-size="16" text-anchor="start" fill="#1c1c1c" font-style="italic" stroke="#1c1c1c" stroke-width="0.33">ε</text>
<text x="438.3" y="110.8" font-family="'Liberation Serif', 'Times New Roman', serif" font-size="9.5" text-anchor="start" fill="#1c1c1c" stroke="#1c1c1c" stroke-width="0.33">2</text>
<text x="442.2" y="103.8" font-family="'Liberation Serif', 'Times New Roman', serif" font-size="16" text-anchor="start" fill="#1c1c1c" textLength="23.27" lengthAdjust="spacingAndGlyphs" stroke="#1c1c1c" stroke-width="0.33">=40</text>
<polygon points="409.6,124.3 411.3,126 409.6,127.7 407.9,126" fill="#fff" stroke="#666" stroke-width="1.0"/>
<text x="431.8" y="130" font-family="'Liberation Serif', 'Times New Roman', serif" font-size="16" text-anchor="start" fill="#1c1c1c" font-style="italic" stroke="#1c1c1c" stroke-width="0.33">ε</text>
<text x="438.3" y="137" font-family="'Liberation Serif', 'Times New Roman', serif" font-size="9.5" text-anchor="start" fill="#1c1c1c" stroke="#1c1c1c" stroke-width="0.33">2</text>
<text x="442.2" y="130" font-family="'Liberation Serif', 'Times New Roman', serif" font-size="16" text-anchor="start" fill="#1c1c1c" textLength="23.27" lengthAdjust="spacingAndGlyphs" stroke="#1c1c1c" stroke-width="0.33">=80</text>
<path d="M134.11,719.52 L149.67,719.52 L165.22,719.52 L180.78,719.52 L196.33,719.52 L211.88,719.52 L227.44,719.52 L242.99,719.52 L258.54,719.52 L274.1,719.52 L274.72,719.52 L275.34,719.52 L275.96,719.52 L276.58,719.52 L277.21,719.52 L277.83,719.52 L278.45,719.52 L279.07,719.52 L279.7,719.52 L280.32,719.52 L280.94,719.52 L281.56,719.52 L282.18,719.52 L282.81,719.52 L283.43,719.52 L284.05,719.52 L284.67,719.52 L285.29,719.52 L285.92,719.52 L286.54,719.52 L287.16,719.52 L287.78,719.52 L288.41,719.52 L289.03,719.52 L289.65,719.52 L290.27,719.52 L290.89,719.52 L291.52,719.52 L292.14,719.52 L292.76,719.52 L293.38,719.52 L294,719.52 L294.63,719.52 L295.25,719.52 L295.87,719.52 L296.49,719.52 L297.12,719.52 L297.74,719.52 L298.36,719.52 L298.98,719.52 L299.6,719.52 L300.23,719.52 L300.85,719.52 L301.47,719.52 L302.09,719.52 L302.71,719.52 L303.34,719.52 L303.96,719.52 L304.58,719.52 L305.2,719.52 L305.83,719.52 L306.45,719.52 L307.07,719.52 L307.69,719.52 L308.31,719.52 L308.94,719.52 L309.56,719.52 L310.18,719.52 L310.8,719.52 L311.42,719.52 L312.05,719.52 L312.67,719.52 L313.29,719.52 L313.91,719.52 L314.54,719.52 L315.16,719.52 L315.78,719.52 L316.4,719.52 L317.02,719.52 L317.65,719.52 L318.27,719.52 L318.89,719.52 L319.51,719.52 L320.13,719.52 L320.76,719.52 L321.38,719.52 L322,719.52 L322.62,719.52 L323.25,719.52 L323.87,719.52 L324.49,719.52 L325.11,719.52 L325.73,719.52 L326.36,719.52 L326.98,719.52 L327.6,719.52 L328.22,719.52 L328.84,719.52 L329.47,719.52 L330.09,719.52 L330.71,719.52 L331.33,719.52 L331.96,719.52 L332.58,719.52 L333.2,719.52 L333.82,719.52 L334.44,719.52 L335.07,719.52 L335.69,719.52 L336.31,719.52 L336.93,719.52 L337.55,719.52 L338.18,719.52 L338.8,719.52 L339.42,719.52 L340.04,719.52 L340.67,719.52 L341.29,719.52 L341.91,719.52 L342.53,719.52 L343.15,719.52 L343.78,719.52 L344.4,719.52 L345.02,719.52 L345.64,719.52 L346.26,719.52 L346.89,719.52 L347.51,719.52 L348.13,719.52 L348.75,719.52 L349.38,719.52 L350,719.52 L350.62,719.52 L351.24,719.52 L351.86,719.52 L352.49,719.52 L353.11,719.52 L353.73,719.52 L354.35,719.52 L354.97,719.52 L355.6,719.52 L356.22,719.52 L356.84,719.52 L357.46,719.52 L358.09,719.52 L358.71,719.52 L359.33,719.52 L359.95,719.52 L360.57,719.52 L361.2,719.52 L361.82,719.52 L362.44,719.52 L363.06,719.52 L363.68,719.52 L364.31,719.52 L364.93,719.52 L365.55,719.52 L366.17,719.52 L366.8,719.52 L367.42,719.52 L368.04,719.52 L368.66,719.52 L369.28,719.52 L369.91,719.52 L370.53,719.52 L371.15,719.52 L386.7,719.52 L402.26,719.52 L417.81,719.52 L433.36,719.52 L448.92,719.52 L464.47,719.52 L480.03,719.52 L495.58,719.52 L507.4,719.52" fill="none" stroke="#1c1c1c" stroke-width="1.55" stroke-linejoin="round" clip-path="url(#cb)"/>
<path d="M274.1,719.33 L289.65,717.8 L290.27,717.65 L290.89,717.48 L291.52,717.29 L292.14,717.09 L292.76,716.87 L293.38,716.63 L294,716.37 L294.63,716.09 L295.25,715.78 L295.87,715.44 L296.49,715.07 L297.12,714.67 L297.74,714.24 L298.36,713.77 L298.98,713.25 L299.6,712.7 L300.23,712.09 L300.85,711.43 L301.47,710.72 L302.09,709.94 L302.71,709.1 L303.34,708.19 L303.96,707.2 L304.58,706.13 L305.2,704.97 L305.83,703.72 L306.45,702.37 L307.07,700.91 L307.69,699.34 L308.31,697.65 L308.94,695.83 L309.56,693.87 L310.18,691.77 L310.8,689.52 L311.42,687.12 L312.05,684.55 L312.67,681.8 L313.29,678.89 L313.91,675.79 L314.54,672.5 L315.16,669.02 L315.78,665.35 L316.4,661.48 L317.02,657.42 L317.65,653.17 L318.27,648.72 L318.89,644.1 L319.51,639.29 L320.13,634.32 L320.76,629.19 L321.38,623.91 L322,618.51 L322.62,613 L323.25,607.39 L323.87,601.7 L324.49,595.96 L325.11,590.19 L325.73,584.4 L326.36,578.63 L326.98,572.89 L327.6,567.21 L328.22,561.6 L328.84,556.08 L329.47,550.68 L330.09,545.4 L330.71,540.27 L331.33,535.3 L331.96,530.5 L332.58,525.87 L333.2,521.43 L333.82,517.17 L334.44,513.11 L335.07,509.25 L335.69,505.57 L336.31,502.09 L336.93,498.81 L337.55,495.71 L338.18,492.79 L338.8,490.05 L339.42,487.47 L340.04,485.07 L340.67,482.82 L341.29,480.72 L341.91,478.76 L342.53,476.94 L343.15,475.25 L343.78,473.68 L344.4,472.22 L345.02,470.87 L345.64,469.62 L346.26,468.46 L346.89,467.39 L347.51,466.4 L348.13,465.49 L348.75,464.65 L349.38,463.87 L350,463.16 L350.62,462.5 L351.24,461.89 L351.86,461.34 L352.49,460.82 L353.11,460.35 L353.73,459.92 L354.35,459.52 L354.97,459.15 L355.6,458.81 L356.22,458.5 L356.84,458.22 L357.46,457.96 L358.09,457.72 L358.71,457.5 L359.33,457.3 L359.95,457.11 L360.57,456.94 L361.2,456.79 L361.82,456.64 L362.44,456.51 L363.06,456.39 L363.68,456.28 L364.31,456.18 L364.93,456.09 L365.55,456 L366.17,455.93 L366.8,455.86 L367.42,455.79 L368.04,455.73 L368.66,455.67 L369.28,455.62 L369.91,455.58 L370.53,455.54 L371.15,455.5 L371.77,455.46 L372.39,455.43 L373.02,455.4 L373.64,455.37 L374.26,455.35 L374.88,455.32 L375.51,455.3 L389.19,455.11" fill="none" stroke="#4ad64a" stroke-width="1.55" stroke-linejoin="round" clip-path="url(#cb)"/>
<path d="M274.1,719.47 L274.72,719.46 L275.34,719.45 L275.96,719.45 L276.58,719.44 L277.21,719.43 L277.83,719.42 L278.45,719.41 L279.07,719.4 L279.7,719.39 L280.32,719.38 L280.94,719.36 L281.56,719.35 L282.18,719.33 L282.81,719.31 L283.43,719.29 L284.05,719.26 L284.67,719.24 L285.29,719.21 L285.92,719.18 L286.54,719.14 L287.16,719.11 L287.78,719.06 L288.41,719.02 L289.03,718.97 L289.65,718.91 L290.27,718.85 L290.89,718.78 L291.52,718.71 L292.14,718.63 L292.76,718.54 L293.38,718.44 L294,718.33 L294.63,718.21 L295.25,718.08 L295.87,717.94 L296.49,717.78 L297.12,717.61 L297.74,717.42 L298.36,717.22 L298.98,716.99 L299.6,716.74 L300.23,716.47 L300.85,716.17 L301.47,715.85 L302.09,715.49 L302.71,715.11 L303.34,714.69 L303.96,714.23 L304.58,713.73 L305.2,713.19 L305.83,712.6 L306.45,711.96 L307.07,711.27 L307.69,710.53 L308.31,709.73 L308.94,708.86 L309.56,707.93 L310.18,706.94 L310.8,705.88 L311.42,704.75 L312.05,703.54 L312.67,702.27 L313.29,700.92 L313.91,699.5 L314.54,698 L315.16,696.44 L315.78,694.81 L316.4,693.12 L317.02,691.38 L317.65,689.58 L318.27,687.73 L318.89,685.84 L319.51,683.93 L320.13,681.99 L320.76,680.04 L321.38,678.08 L322,676.13 L322.62,674.19 L323.25,672.28 L323.87,670.39 L324.49,668.55 L325.11,666.75 L325.73,665 L326.36,663.31 L326.98,661.68 L327.6,660.12 L328.22,658.63 L328.84,657.21 L329.47,655.86 L330.09,654.58 L330.71,653.38 L331.33,652.25 L331.96,651.18 L332.58,650.19 L333.2,649.26 L333.82,648.4 L334.44,647.6 L335.07,646.85 L335.69,646.16 L336.31,645.53 L336.93,644.94 L337.55,644.4 L338.18,643.9 L338.8,643.44 L339.42,643.02 L340.04,642.63 L340.67,642.28 L341.29,641.95 L341.91,641.65 L342.53,641.38 L343.15,641.13 L343.78,640.91 L344.4,640.7 L345.02,640.51 L345.64,640.34 L346.26,640.18 L346.89,640.04 L347.51,639.91 L348.13,639.79 L348.75,639.68 L349.38,639.59 L350,639.5 L350.62,639.41 L351.24,639.34 L351.86,639.27 L352.49,639.21 L353.11,639.16 L353.73,639.11 L354.35,639.06 L354.97,639.02 L355.6,638.98 L356.22,638.95 L356.84,638.91 L357.46,638.89 L358.09,638.86 L358.71,638.84 L359.33,638.81 L359.95,638.8 L360.57,638.78 L361.2,638.76 L361.82,638.75 L362.44,638.73 L363.06,638.72 L363.68,638.71 L364.31,638.7 L364.93,638.69 L365.55,638.68 L366.17,638.68 L366.8,638.67 L367.42,638.66 L368.04,638.66 L368.66,638.65 L369.28,638.65 L369.91,638.64 L370.53,638.64 L371.15,638.64 L386.7,638.61 L389.19,638.61" fill="none" stroke="#d444d8" stroke-width="1.55" stroke-linejoin="round" clip-path="url(#cb)"/>
<path d="M258.54,719.48 L274.1,719.21 L274.72,719.18 L275.34,719.15 L275.96,719.12 L276.58,719.08 L277.21,719.04 L277.83,718.99 L278.45,718.95 L279.07,718.9 L279.7,718.84 L280.32,718.78 L280.94,718.71 L281.56,718.64 L282.18,718.56 L282.81,718.47 L283.43,718.37 L284.05,718.27 L284.67,718.16 L285.29,718.04 L285.92,717.9 L286.54,717.76 L287.16,717.6 L287.78,717.43 L288.41,717.25 L289.03,717.05 L289.65,716.83 L290.27,716.59 L290.89,716.33 L291.52,716.05 L292.14,715.75 L292.76,715.42 L293.38,715.07 L294,714.69 L294.63,714.27 L295.25,713.83 L295.87,713.35 L296.49,712.83 L297.12,712.27 L297.74,711.67 L298.36,711.03 L298.98,710.34 L299.6,709.61 L300.23,708.82 L300.85,707.98 L301.47,707.09 L302.09,706.14 L302.71,705.13 L303.34,704.07 L303.96,702.94 L304.58,701.76 L305.2,700.52 L305.83,699.22 L306.45,697.86 L307.07,696.44 L307.69,694.97 L308.31,693.45 L308.94,691.88 L309.56,690.27 L310.18,688.61 L310.8,686.93 L311.42,685.21 L312.05,683.47 L312.67,681.71 L313.29,679.95 L313.91,678.18 L314.54,676.41 L315.16,674.65 L315.78,672.91 L316.4,671.2 L317.02,669.51 L317.65,667.86 L318.27,666.24 L318.89,664.67 L319.51,663.15 L320.13,661.68 L320.76,660.27 L321.38,658.91 L322,657.61 L322.62,656.36 L323.25,655.18 L323.87,654.06 L324.49,652.99 L325.11,651.99 L325.73,651.04 L326.36,650.14 L326.98,649.31 L327.6,648.52 L328.22,647.78 L328.84,647.09 L329.47,646.45 L330.09,645.85 L330.71,645.3 L331.33,644.78 L331.96,644.3 L332.58,643.85 L333.2,643.44 L333.82,643.06 L334.44,642.7 L335.07,642.37 L335.69,642.07 L336.31,641.79 L336.93,641.53 L337.55,641.3 L338.18,641.08 L338.8,640.88 L339.42,640.69 L340.04,640.52 L340.67,640.36 L341.29,640.22 L341.91,640.09 L342.53,639.96 L343.15,639.85 L343.78,639.75 L344.4,639.65 L345.02,639.57 L345.64,639.49 L346.26,639.41 L346.89,639.35 L347.51,639.29 L348.13,639.23 L348.75,639.18 L349.38,639.13 L350,639.09 L350.62,639.05 L351.24,639.01 L351.86,638.97 L352.49,638.94 L353.11,638.92 L353.73,638.89 L354.35,638.87 L354.97,638.84 L355.6,638.82 L356.22,638.81 L356.84,638.79 L357.46,638.77 L358.09,638.76 L358.71,638.75 L359.33,638.73 L359.95,638.72 L360.57,638.71 L361.2,638.7 L361.82,638.7 L362.44,638.69 L363.06,638.68 L363.68,638.67 L379.24,638.61 L394.79,638.6 L410.35,638.6 L425.9,638.6 L441.45,638.6 L457.01,638.6 L472.56,638.6 L488.11,638.6 L503.67,638.6 L507.4,638.6" fill="none" stroke="#2b2bcc" stroke-width="1.55" stroke-linejoin="round" clip-path="url(#cb)"/>
<path d="M134.11,719.52 L149.67,719.52 L165.22,719.52 L180.78,719.52 L196.33,719.52 L211.88,719.52 L227.44,719.52 L242.99,719.5 L258.54,719.31 L259.17,719.29 L259.79,719.27 L260.41,719.24 L261.03,719.22 L261.65,719.19 L262.28,719.16 L262.9,719.12 L263.52,719.08 L264.14,719.04 L264.76,718.99 L265.39,718.94 L266.01,718.89 L266.63,718.83 L267.25,718.76 L267.87,718.69 L268.5,718.61 L269.12,718.52 L269.74,718.42 L270.36,718.32 L270.99,718.2 L271.61,718.07 L272.23,717.94 L272.85,717.78 L273.47,717.62 L274.1,717.44 L274.72,717.24 L275.34,717.02 L275.96,716.78 L276.58,716.52 L277.21,716.23 L277.83,715.92 L278.45,715.58 L279.07,715.2 L279.7,714.79 L280.32,714.35 L280.94,713.86 L281.56,713.32 L282.18,712.74 L282.81,712.11 L283.43,711.41 L284.05,710.66 L284.67,709.83 L285.29,708.94 L285.92,707.96 L286.54,706.9 L287.16,705.74 L287.78,704.49 L288.41,703.13 L289.03,701.66 L289.65,700.06 L290.27,698.33 L290.89,696.47 L291.52,694.45 L292.14,692.28 L292.76,689.95 L293.38,687.44 L294,684.76 L294.63,681.88 L295.25,678.81 L295.87,675.53 L296.49,672.05 L297.12,668.36 L297.74,664.45 L298.36,660.32 L298.98,655.99 L299.6,651.43 L300.23,646.67 L300.85,641.71 L301.47,636.56 L302.09,631.23 L302.71,625.73 L303.34,620.09 L303.96,614.31 L304.58,608.43 L305.2,602.45 L305.83,596.42 L306.45,590.34 L307.07,584.25 L307.69,578.18 L308.31,572.14 L308.94,566.17 L309.56,560.28 L310.18,554.5 L310.8,548.86 L311.42,543.36 L312.05,538.03 L312.67,532.88 L313.29,527.92 L313.91,523.16 L314.54,518.61 L315.16,514.27 L315.78,510.14 L316.4,506.24 L317.02,502.54 L317.65,499.06 L318.27,495.78 L318.89,492.71 L319.51,489.84 L320.13,487.15 L320.76,484.64 L321.38,482.31 L322,480.14 L322.62,478.12 L323.25,476.26 L323.87,474.53 L324.49,472.94 L325.11,471.46 L325.73,470.1 L326.36,468.85 L326.98,467.69 L327.6,466.63 L328.22,465.65 L328.84,464.76 L329.47,463.93 L330.09,463.18 L330.71,462.48 L331.33,461.85 L331.96,461.27 L332.58,460.73 L333.2,460.25 L333.82,459.8 L334.44,459.39 L335.07,459.01 L335.69,458.67 L336.31,458.36 L336.93,458.07 L337.55,457.81 L338.18,457.57 L338.8,457.36 L339.42,457.16 L340.04,456.97 L340.67,456.81 L341.29,456.66 L341.91,456.52 L342.53,456.39 L343.15,456.28 L343.78,456.17 L344.4,456.07 L345.02,455.99 L345.64,455.91 L346.26,455.83 L346.89,455.77 L347.51,455.7 L348.13,455.65 L348.75,455.6 L349.38,455.55 L350,455.51 L350.62,455.47 L351.24,455.44 L351.86,455.4 L352.49,455.38 L353.11,455.35 L353.73,455.32 L354.35,455.3 L354.97,455.28 L355.6,455.26 L356.22,455.25 L356.84,455.23 L372.39,455.09 L387.95,455.07 L403.5,455.07 L419.06,455.07 L434.61,455.07 L450.16,455.07 L465.72,455.07 L481.27,455.07 L496.82,455.07 L507.4,455.07" fill="none" stroke="#e0303c" stroke-width="1.55" stroke-linejoin="round" clip-path="url(#cb)"/>
<g clip-path="url(#cb)">
<polygon points="131,723.47 137,723.47 134,728.12" fill="#1c1c1c"/>
<circle cx="134" cy="724.8" r="0.5" fill="#fff"/>
<polygon points="152.69,723.47 158.69,723.47 155.69,728.12" fill="#1c1c1c"/>
<circle cx="155.69" cy="724.8" r="0.5" fill="#fff"/>
<polygon points="174.38,723.47 180.38,723.47 177.38,728.12" fill="#1c1c1c"/>
<circle cx="177.38" cy="724.8" r="0.5" fill="#fff"/>
<polygon points="196.07,723.47 202.07,723.47 199.07,728.12" fill="#1c1c1c"/>
<circle cx="199.07" cy="724.8" r="0.5" fill="#fff"/>
<polygon points="217.76,723.47 223.76,723.47 220.76,728.12" fill="#1c1c1c"/>
<circle cx="220.76" cy="724.8" r="0.5" fill="#fff"/>
<polygon points="239.45,723.47 245.45,723.47 242.45,728.12" fill="#1c1c1c"/>
<circle cx="242.45" cy="724.8" r="0.5" fill="#fff"/>
<polygon points="261.14,723.47 267.14,723.47 264.14,728.12" fill="#1c1c1c"/>
<circle cx="264.14" cy="724.8" r="0.5" fill="#fff"/>
<polygon points="282.83,722.67 288.83,722.67 285.83,727.33" fill="#1c1c1c"/>
<circle cx="285.83" cy="724" r="0.5" fill="#fff"/>
<circle cx="134.11" cy="718.9" r="2.1" fill="#1c1c1c"/>
<path d="M131.36,716.42L134.11,718.7L136.87,716.42M131.83,720.5L134.11,718.7L136.39,720.5" stroke="#1c1c1c" stroke-width="0.95" fill="none"/><ellipse cx="134.11" cy="718.99" rx="1.71" ry="1.9" fill="#1c1c1c"/>
<circle cx="165.22" cy="718.9" r="2.1" fill="#1c1c1c"/>
<path d="M162.47,716.42L165.22,718.7L167.98,716.42M162.94,720.5L165.22,718.7L167.5,720.5" stroke="#1c1c1c" stroke-width="0.95" fill="none"/><ellipse cx="165.22" cy="718.99" rx="1.71" ry="1.9" fill="#1c1c1c"/>
<circle cx="196.33" cy="718.9" r="2.1" fill="#1c1c1c"/>
<path d="M193.57,716.42L196.33,718.7L199.08,716.42M194.05,720.5L196.33,718.7L198.61,720.5" stroke="#1c1c1c" stroke-width="0.95" fill="none"/><ellipse cx="196.33" cy="718.99" rx="1.71" ry="1.9" fill="#1c1c1c"/>
<circle cx="227.44" cy="718.9" r="2.1" fill="#1c1c1c"/>
<path d="M224.68,716.42L227.44,718.7L230.19,716.42M225.16,720.5L227.44,718.7L229.72,720.5" stroke="#1c1c1c" stroke-width="0.95" fill="none"/><ellipse cx="227.44" cy="718.99" rx="1.71" ry="1.9" fill="#1c1c1c"/>
<circle cx="258.54" cy="718.9" r="2.1" fill="#1c1c1c"/>
<path d="M255.79,716.42L258.54,718.7L261.3,716.42M256.26,720.5L258.54,718.7L260.82,720.5" stroke="#1c1c1c" stroke-width="0.95" fill="none"/><ellipse cx="258.54" cy="718.99" rx="1.71" ry="1.9" fill="#1c1c1c"/>
<circle cx="289.65" cy="718.9" r="2.5" fill="#1c1c1c"/>
<path d="M286.89,716.42L289.65,718.7L292.4,716.42M287.37,720.5L289.65,718.7L291.93,720.5" stroke="#1c1c1c" stroke-width="0.95" fill="none"/><ellipse cx="289.65" cy="718.99" rx="1.71" ry="1.9" fill="#1c1c1c"/>
<path d="M318,716.42L320.76,718.7L323.51,716.42M318.48,720.5L320.76,718.7L323.04,720.5" stroke="#1c1c1c" stroke-width="0.95" fill="none"/><ellipse cx="320.76" cy="718.99" rx="1.71" ry="1.9" fill="#1c1c1c"/>
<path d="M349.11,716.42L351.86,718.7L354.62,716.42M349.58,720.5L351.86,718.7L354.14,720.5" stroke="#1c1c1c" stroke-width="0.95" fill="none"/><ellipse cx="351.86" cy="718.99" rx="1.71" ry="1.9" fill="#1c1c1c"/>
<path d="M380.22,716.42L382.97,718.7L385.73,716.42M380.69,720.5L382.97,718.7L385.25,720.5" stroke="#1c1c1c" stroke-width="0.95" fill="none"/><ellipse cx="382.97" cy="718.99" rx="1.71" ry="1.9" fill="#1c1c1c"/>
<path d="M411.32,716.42L414.08,718.7L416.83,716.42M411.8,720.5L414.08,718.7L416.36,720.5" stroke="#1c1c1c" stroke-width="0.95" fill="none"/><ellipse cx="414.08" cy="718.99" rx="1.71" ry="1.9" fill="#1c1c1c"/>
<path d="M442.43,716.42L445.19,718.7L447.94,716.42M442.91,720.5L445.19,718.7L447.47,720.5" stroke="#1c1c1c" stroke-width="0.95" fill="none"/><ellipse cx="445.19" cy="718.99" rx="1.71" ry="1.9" fill="#1c1c1c"/>
<path d="M473.54,716.42L476.29,718.7L479.05,716.42M474.01,720.5L476.29,718.7L478.57,720.5" stroke="#1c1c1c" stroke-width="0.95" fill="none"/><ellipse cx="476.29" cy="718.99" rx="1.71" ry="1.9" fill="#1c1c1c"/>
<polygon points="285.83,705.7 287.53,707.4 285.83,709.1 284.13,707.4" fill="#fff" stroke="#777" stroke-width="1.2"/>
<polygon points="304.62,707.95 310.42,707.95 307.52,712.45" fill="#fff" stroke="#1c1c1c" stroke-width="1.2" stroke-linejoin="round"/>
<polygon points="304.52,694.27 310.52,694.27 307.52,698.93" fill="#1c1c1c"/>
<circle cx="307.52" cy="698.4" r="2.2" fill="#1c1c1c"/>
<polygon points="307.52,571.4 309.62,573.5 307.52,575.6 305.42,573.5" fill="#fff" stroke="#444" stroke-width="1.1"/>
<polygon points="326.31,655.45 332.11,655.45 329.21,659.95" fill="#fff" stroke="#1c1c1c" stroke-width="1.2" stroke-linejoin="round"/>
<polygon points="326.21,641.47 332.21,641.47 329.21,646.12" fill="#1c1c1c"/>
<circle cx="329.21" cy="545.7" r="2.5" fill="#1c1c1c"/>
<polygon points="329.21,457.6 331.61,460 329.21,462.4 326.81,460" fill="#fff" stroke="#333" stroke-width="1.2"/>
<circle cx="350.9" cy="459.6" r="2.2" fill="#1c1c1c"/>
<polygon points="348,634.75 353.8,634.75 350.9,639.25" fill="#fff" stroke="#1c1c1c" stroke-width="1.2" stroke-linejoin="round"/>
<polygon points="347.9,634.27 353.9,634.27 350.9,638.93" fill="#1c1c1c"/>
<polygon points="369.69,634.75 375.49,634.75 372.59,639.25" fill="#fff" stroke="#1c1c1c" stroke-width="1.2" stroke-linejoin="round"/>
<polygon points="369.59,634.27 375.59,634.27 372.59,638.93" fill="#1c1c1c"/>
<polygon points="391.38,634.75 397.18,634.75 394.28,639.25" fill="#fff" stroke="#1c1c1c" stroke-width="1.2" stroke-linejoin="round"/>
<polygon points="391.28,634.27 397.28,634.27 394.28,638.93" fill="#1c1c1c"/>
<polygon points="413.07,634.75 418.87,634.75 415.97,639.25" fill="#fff" stroke="#1c1c1c" stroke-width="1.2" stroke-linejoin="round"/>
<polygon points="412.97,634.27 418.97,634.27 415.97,638.93" fill="#1c1c1c"/>
<polygon points="434.76,634.75 440.56,634.75 437.66,639.25" fill="#fff" stroke="#1c1c1c" stroke-width="1.2" stroke-linejoin="round"/>
<polygon points="434.66,634.27 440.66,634.27 437.66,638.93" fill="#1c1c1c"/>
<polygon points="456.45,634.75 462.25,634.75 459.35,639.25" fill="#fff" stroke="#1c1c1c" stroke-width="1.2" stroke-linejoin="round"/>
<polygon points="456.35,634.27 462.35,634.27 459.35,638.93" fill="#1c1c1c"/>
<polygon points="478.14,634.75 483.94,634.75 481.04,639.25" fill="#fff" stroke="#1c1c1c" stroke-width="1.2" stroke-linejoin="round"/>
<polygon points="478.04,634.27 484.04,634.27 481.04,638.93" fill="#1c1c1c"/>
<polygon points="499.83,634.75 505.63,634.75 502.73,639.25" fill="#fff" stroke="#1c1c1c" stroke-width="1.2" stroke-linejoin="round"/>
<polygon points="499.73,634.27 505.73,634.27 502.73,638.93" fill="#1c1c1c"/>
<circle cx="372.59" cy="454.07" r="1.9" fill="#1c1c1c"/>
<circle cx="394.28" cy="454.07" r="1.9" fill="#1c1c1c"/>
<circle cx="415.97" cy="454.07" r="1.9" fill="#1c1c1c"/>
<circle cx="437.66" cy="454.07" r="1.9" fill="#1c1c1c"/>
<circle cx="459.35" cy="454.07" r="1.9" fill="#1c1c1c"/>
<circle cx="481.04" cy="454.07" r="1.9" fill="#1c1c1c"/>
<circle cx="502.73" cy="454.07" r="1.9" fill="#1c1c1c"/>
<polygon points="350.9,450.17 352.8,452.07 350.9,453.97 349,452.07" fill="#fff" stroke="#555" stroke-width="1.1"/>
<polygon points="372.59,450.17 374.49,452.07 372.59,453.97 370.69,452.07" fill="#fff" stroke="#555" stroke-width="1.1"/>
<polygon points="394.28,450.17 396.18,452.07 394.28,453.97 392.38,452.07" fill="#fff" stroke="#555" stroke-width="1.1"/>
<polygon points="415.97,450.17 417.87,452.07 415.97,453.97 414.07,452.07" fill="#fff" stroke="#555" stroke-width="1.1"/>
<polygon points="437.66,450.17 439.56,452.07 437.66,453.97 435.76,452.07" fill="#fff" stroke="#555" stroke-width="1.1"/>
<polygon points="459.35,450.17 461.25,452.07 459.35,453.97 457.45,452.07" fill="#fff" stroke="#555" stroke-width="1.1"/>
<polygon points="481.04,450.17 482.94,452.07 481.04,453.97 479.14,452.07" fill="#fff" stroke="#555" stroke-width="1.1"/>
<polygon points="502.73,450.17 504.63,452.07 502.73,453.97 500.83,452.07" fill="#fff" stroke="#555" stroke-width="1.1"/>
</g>
<rect x="71.9" y="425.3" width="435.5" height="331" fill="none" stroke="#1c1c1c" stroke-width="1.7"/>
<path d="M64.6,756.3H71.9 M67.9,737.91H71.9 M64.6,719.52H71.9 M67.9,701.13H71.9 M64.6,682.74H71.9 M67.9,664.35H71.9 M64.6,645.96H71.9 M67.9,627.57H71.9 M64.6,609.18H71.9 M67.9,590.79H71.9 M64.6,572.4H71.9 M67.9,554.01H71.9 M64.6,535.62H71.9 M67.9,517.23H71.9 M64.6,498.84H71.9 M67.9,480.45H71.9 M64.6,462.06H71.9 M67.9,443.67H71.9 M64.6,425.28H71.9 M71.9,756.3V763.3 M81.26,756.3V760.3 M86.74,756.3V760.3 M90.63,756.3V760.3 M93.64,756.3V760.3 M96.11,756.3V760.3 M98.19,756.3V760.3 M99.99,756.3V760.3 M101.58,756.3V760.3 M103.01,756.3V763.3 M112.37,756.3V760.3 M117.85,756.3V760.3 M121.74,756.3V760.3 M124.75,756.3V760.3 M127.21,756.3V760.3 M129.3,756.3V760.3 M131.1,756.3V760.3 M132.69,756.3V760.3 M134.11,756.3V763.3 M143.48,756.3V760.3 M148.96,756.3V760.3 M152.84,756.3V760.3 M155.86,756.3V760.3 M158.32,756.3V760.3 M160.4,756.3V760.3 M162.21,756.3V760.3 M163.8,756.3V760.3 M165.22,756.3V763.3 M174.59,756.3V760.3 M180.06,756.3V760.3 M183.95,756.3V760.3 M186.96,756.3V760.3 M189.43,756.3V760.3 M191.51,756.3V760.3 M193.31,756.3V760.3 M194.91,756.3V760.3 M196.33,756.3V763.3 M205.69,756.3V760.3 M211.17,756.3V760.3 M215.06,756.3V760.3 M218.07,756.3V760.3 M220.53,756.3V760.3 M222.62,756.3V760.3 M224.42,756.3V760.3 M226.01,756.3V760.3 M227.44,756.3V763.3 M236.8,756.3V760.3 M242.28,756.3V760.3 M246.16,756.3V760.3 M249.18,756.3V760.3 M251.64,756.3V760.3 M253.72,756.3V760.3 M255.53,756.3V760.3 M257.12,756.3V760.3 M258.54,756.3V763.3 M267.91,756.3V760.3 M273.38,756.3V760.3 M277.27,756.3V760.3 M280.29,756.3V760.3 M282.75,756.3V760.3 M284.83,756.3V760.3 M286.64,756.3V760.3 M288.23,756.3V760.3 M289.65,756.3V763.3 M299.01,756.3V760.3 M304.49,756.3V760.3 M308.38,756.3V760.3 M311.39,756.3V760.3 M313.86,756.3V760.3 M315.94,756.3V760.3 M317.74,756.3V760.3 M319.33,756.3V760.3 M320.76,756.3V763.3 M330.12,756.3V760.3 M335.6,756.3V760.3 M339.49,756.3V760.3 M342.5,756.3V760.3 M344.96,756.3V760.3 M347.05,756.3V760.3 M348.85,756.3V760.3 M350.44,756.3V760.3 M351.86,756.3V763.3 M361.23,756.3V760.3 M366.71,756.3V760.3 M370.59,756.3V760.3 M373.61,756.3V760.3 M376.07,756.3V760.3 M378.15,756.3V760.3 M379.96,756.3V760.3 M381.55,756.3V760.3 M382.97,756.3V763.3 M392.34,756.3V760.3 M397.81,756.3V760.3 M401.7,756.3V760.3 M404.71,756.3V760.3 M407.18,756.3V760.3 M409.26,756.3V760.3 M411.06,756.3V760.3 M412.66,756.3V760.3 M414.08,756.3V763.3 M423.44,756.3V760.3 M428.92,756.3V760.3 M432.81,756.3V760.3 M435.82,756.3V760.3 M438.28,756.3V760.3 M440.37,756.3V760.3 M442.17,756.3V760.3 M443.76,756.3V760.3 M445.19,756.3V763.3 M454.55,756.3V760.3 M460.03,756.3V760.3 M463.91,756.3V760.3 M466.93,756.3V760.3 M469.39,756.3V760.3 M471.47,756.3V760.3 M473.28,756.3V760.3 M474.87,756.3V760.3 M476.29,756.3V763.3 M485.66,756.3V760.3 M491.13,756.3V760.3 M495.02,756.3V760.3 M498.04,756.3V760.3 M500.5,756.3V760.3 M502.58,756.3V760.3 M504.39,756.3V760.3 M505.98,756.3V760.3 M507.4,756.3V763.3" stroke="#1c1c1c" stroke-width="1.5" fill="none"/>
<text x="60" y="759.3" font-family="'Liberation Sans', Arial, sans-serif" font-size="11.8" text-anchor="end" fill="#1c1c1c" textLength="38" lengthAdjust="spacingAndGlyphs" stroke="#1c1c1c" stroke-width="0.45">0.0095</text>
<text x="60" y="722.52" font-family="'Liberation Sans', Arial, sans-serif" font-size="11.8" text-anchor="end" fill="#1c1c1c" textLength="38" lengthAdjust="spacingAndGlyphs" stroke="#1c1c1c" stroke-width="0.45">0.0100</text>
<text x="60" y="685.74" font-family="'Liberation Sans', Arial, sans-serif" font-size="11.8" text-anchor="end" fill="#1c1c1c" textLength="38" lengthAdjust="spacingAndGlyphs" stroke="#1c1c1c" stroke-width="0.45">0.0105</text>
<text x="60" y="648.96" font-family="'Liberation Sans', Arial, sans-serif" font-size="11.8" text-anchor="end" fill="#1c1c1c" textLength="38" lengthAdjust="spacingAndGlyphs" stroke="#1c1c1c" stroke-width="0.45">0.0110</text>
<text x="60" y="612.18" font-family="'Liberation Sans', Arial, sans-serif" font-size="11.8" text-anchor="end" fill="#1c1c1c" textLength="38" lengthAdjust="spacingAndGlyphs" stroke="#1c1c1c" stroke-width="0.45">0.0115</text>
<text x="60" y="575.4" font-family="'Liberation Sans', Arial, sans-serif" font-size="11.8" text-anchor="end" fill="#1c1c1c" textLength="38" lengthAdjust="spacingAndGlyphs" stroke="#1c1c1c" stroke-width="0.45">0.0120</text>
<text x="60" y="538.62" font-family="'Liberation Sans', Arial, sans-serif" font-size="11.8" text-anchor="end" fill="#1c1c1c" textLength="38" lengthAdjust="spacingAndGlyphs" stroke="#1c1c1c" stroke-width="0.45">0.0125</text>
<text x="60" y="501.84" font-family="'Liberation Sans', Arial, sans-serif" font-size="11.8" text-anchor="end" fill="#1c1c1c" textLength="38" lengthAdjust="spacingAndGlyphs" stroke="#1c1c1c" stroke-width="0.45">0.0130</text>
<text x="60" y="465.06" font-family="'Liberation Sans', Arial, sans-serif" font-size="11.8" text-anchor="end" fill="#1c1c1c" textLength="38" lengthAdjust="spacingAndGlyphs" stroke="#1c1c1c" stroke-width="0.45">0.0135</text>
<text x="60" y="428.28" font-family="'Liberation Sans', Arial, sans-serif" font-size="11.8" text-anchor="end" fill="#1c1c1c" textLength="38" lengthAdjust="spacingAndGlyphs" stroke="#1c1c1c" stroke-width="0.45">0.0140</text>
<text x="62.4" y="780.6" font-family="'Liberation Sans', Arial, sans-serif" font-size="11.6" text-anchor="start" fill="#1c1c1c" textLength="11.6" lengthAdjust="spacingAndGlyphs" stroke="#1c1c1c" stroke-width="0.45">10</text>
<text x="74.8" y="774.3" font-family="'Liberation Sans', Arial, sans-serif" font-size="8" text-anchor="start" fill="#1c1c1c" textLength="6.2" lengthAdjust="spacingAndGlyphs" stroke="#1c1c1c" stroke-width="0.45">-1</text>
<text x="94.01" y="780.6" font-family="'Liberation Sans', Arial, sans-serif" font-size="11.6" text-anchor="start" fill="#1c1c1c" textLength="11.6" lengthAdjust="spacingAndGlyphs" stroke="#1c1c1c" stroke-width="0.45">10</text>
<text x="107.31" y="774.3" font-family="'Liberation Sans', Arial, sans-serif" font-size="8" text-anchor="start" fill="#1c1c1c" stroke="#1c1c1c" stroke-width="0.45">0</text>
<text x="125.11" y="780.6" font-family="'Liberation Sans', Arial, sans-serif" font-size="11.6" text-anchor="start" fill="#1c1c1c" textLength="11.6" lengthAdjust="spacingAndGlyphs" stroke="#1c1c1c" stroke-width="0.45">10</text>
<text x="138.41" y="774.3" font-family="'Liberation Sans', Arial, sans-serif" font-size="8" text-anchor="start" fill="#1c1c1c" stroke="#1c1c1c" stroke-width="0.45">1</text>
<text x="156.22" y="780.6" font-family="'Liberation Sans', Arial, sans-serif" font-size="11.6" text-anchor="start" fill="#1c1c1c" textLength="11.6" lengthAdjust="spacingAndGlyphs" stroke="#1c1c1c" stroke-width="0.45">10</text>
<text x="169.52" y="774.3" font-family="'Liberation Sans', Arial, sans-serif" font-size="8" text-anchor="start" fill="#1c1c1c" stroke="#1c1c1c" stroke-width="0.45">2</text>
<text x="187.33" y="780.6" font-family="'Liberation Sans', Arial, sans-serif" font-size="11.6" text-anchor="start" fill="#1c1c1c" textLength="11.6" lengthAdjust="spacingAndGlyphs" stroke="#1c1c1c" stroke-width="0.45">10</text>
<text x="200.63" y="774.3" font-family="'Liberation Sans', Arial, sans-serif" font-size="8" text-anchor="start" fill="#1c1c1c" stroke="#1c1c1c" stroke-width="0.45">3</text>
<text x="218.44" y="780.6" font-family="'Liberation Sans', Arial, sans-serif" font-size="11.6" text-anchor="start" fill="#1c1c1c" textLength="11.6" lengthAdjust="spacingAndGlyphs" stroke="#1c1c1c" stroke-width="0.45">10</text>
<text x="231.74" y="774.3" font-family="'Liberation Sans', Arial, sans-serif" font-size="8" text-anchor="start" fill="#1c1c1c" stroke="#1c1c1c" stroke-width="0.45">4</text>
<text x="249.54" y="780.6" font-family="'Liberation Sans', Arial, sans-serif" font-size="11.6" text-anchor="start" fill="#1c1c1c" textLength="11.6" lengthAdjust="spacingAndGlyphs" stroke="#1c1c1c" stroke-width="0.45">10</text>
<text x="262.84" y="774.3" font-family="'Liberation Sans', Arial, sans-serif" font-size="8" text-anchor="start" fill="#1c1c1c" stroke="#1c1c1c" stroke-width="0.45">5</text>
<text x="280.65" y="780.6" font-family="'Liberation Sans', Arial, sans-serif" font-size="11.6" text-anchor="start" fill="#1c1c1c" textLength="11.6" lengthAdjust="spacingAndGlyphs" stroke="#1c1c1c" stroke-width="0.45">10</text>
<text x="293.95" y="774.3" font-family="'Liberation Sans', Arial, sans-serif" font-size="8" text-anchor="start" fill="#1c1c1c" stroke="#1c1c1c" stroke-width="0.45">6</text>
<text x="311.76" y="780.6" font-family="'Liberation Sans', Arial, sans-serif" font-size="11.6" text-anchor="start" fill="#1c1c1c" textLength="11.6" lengthAdjust="spacingAndGlyphs" stroke="#1c1c1c" stroke-width="0.45">10</text>
<text x="325.06" y="774.3" font-family="'Liberation Sans', Arial, sans-serif" font-size="8" text-anchor="start" fill="#1c1c1c" stroke="#1c1c1c" stroke-width="0.45">7</text>
<text x="342.86" y="780.6" font-family="'Liberation Sans', Arial, sans-serif" font-size="11.6" text-anchor="start" fill="#1c1c1c" textLength="11.6" lengthAdjust="spacingAndGlyphs" stroke="#1c1c1c" stroke-width="0.45">10</text>
<text x="356.16" y="774.3" font-family="'Liberation Sans', Arial, sans-serif" font-size="8" text-anchor="start" fill="#1c1c1c" stroke="#1c1c1c" stroke-width="0.45">8</text>
<text x="373.97" y="780.6" font-family="'Liberation Sans', Arial, sans-serif" font-size="11.6" text-anchor="start" fill="#1c1c1c" textLength="11.6" lengthAdjust="spacingAndGlyphs" stroke="#1c1c1c" stroke-width="0.45">10</text>
<text x="387.27" y="774.3" font-family="'Liberation Sans', Arial, sans-serif" font-size="8" text-anchor="start" fill="#1c1c1c" stroke="#1c1c1c" stroke-width="0.45">9</text>
<text x="403.78" y="780.6" font-family="'Liberation Sans', Arial, sans-serif" font-size="11.6" text-anchor="start" fill="#1c1c1c" textLength="11.6" lengthAdjust="spacingAndGlyphs" stroke="#1c1c1c" stroke-width="0.45">10</text>
<text x="416.08" y="774.3" font-family="'Liberation Sans', Arial, sans-serif" font-size="8" text-anchor="start" fill="#1c1c1c" textLength="8.0" lengthAdjust="spacingAndGlyphs" stroke="#1c1c1c" stroke-width="0.45">10</text>
<text x="434.89" y="780.6" font-family="'Liberation Sans', Arial, sans-serif" font-size="11.6" text-anchor="start" fill="#1c1c1c" textLength="11.6" lengthAdjust="spacingAndGlyphs" stroke="#1c1c1c" stroke-width="0.45">10</text>
<text x="447.19" y="774.3" font-family="'Liberation Sans', Arial, sans-serif" font-size="8" text-anchor="start" fill="#1c1c1c" textLength="8.0" lengthAdjust="spacingAndGlyphs" stroke="#1c1c1c" stroke-width="0.45">11</text>
<text x="465.99" y="780.6" font-family="'Liberation Sans', Arial, sans-serif" font-size="11.6" text-anchor="start" fill="#1c1c1c" textLength="11.6" lengthAdjust="spacingAndGlyphs" stroke="#1c1c1c" stroke-width="0.45">10</text>
<text x="478.29" y="774.3" font-family="'Liberation Sans', Arial, sans-serif" font-size="8" text-anchor="start" fill="#1c1c1c" textLength="8.0" lengthAdjust="spacingAndGlyphs" stroke="#1c1c1c" stroke-width="0.45">12</text>
<text x="497.1" y="780.6" font-family="'Liberation Sans', Arial, sans-serif" font-size="11.6" text-anchor="start" fill="#1c1c1c" textLength="11.6" lengthAdjust="spacingAndGlyphs" stroke="#1c1c1c" stroke-width="0.45">10</text>
<text x="509.4" y="774.3" font-family="'Liberation Sans', Arial, sans-serif" font-size="8" text-anchor="start" fill="#1c1c1c" textLength="8.0" lengthAdjust="spacingAndGlyphs" stroke="#1c1c1c" stroke-width="0.45">13</text>
<text x="225.7" y="796.4" font-family="'Liberation Serif', 'Times New Roman', serif" font-size="15" text-anchor="start" fill="#1c1c1c" textLength="65.4" lengthAdjust="spacingAndGlyphs" stroke="#1c1c1c" stroke-width="0.33">Frequency</text>
<text x="293.3" y="796.4" font-family="'Liberation Serif', 'Times New Roman', serif" font-size="15" text-anchor="start" fill="#1c1c1c" textLength="28.2" lengthAdjust="spacingAndGlyphs" stroke="#1c1c1c" stroke-width="0.33">(Hz)</text>
<text x="259.8" y="826.5" font-family="'Liberation Serif', 'Times New Roman', serif" font-size="21" text-anchor="middle" fill="#1c1c1c">(b)</text>
<g transform="translate(13.3,616) rotate(-90)"><text x="0" y="0" font-family="'Liberation Serif', 'Times New Roman', serif" font-size="16" text-anchor="start" fill="#1c1c1c" font-style="italic" stroke="#1c1c1c" stroke-width="0.33">σ</text><text x="6.8" y="5.6" font-family="'Liberation Serif', 'Times New Roman', serif" font-size="9" text-anchor="start" fill="#1c1c1c" font-style="italic" stroke="#1c1c1c" stroke-width="0.33">eff</text><text x="16.6" y="0" font-family="'Liberation Serif', 'Times New Roman', serif" font-size="16.6" text-anchor="start" fill="#1c1c1c" stroke="#1c1c1c" stroke-width="0.33">(<tspan font-style="italic">S/m</tspan>)</text></g>
<rect x="110.8" y="517" width="79.9" height="131" fill="#fff" stroke="#1c1c1c" stroke-width="1.6"/>
<circle cx="132.2" cy="532.3" r="1.6" fill="#1c1c1c"/>
<text x="153.6" y="537.5" font-family="'Liberation Serif', 'Times New Roman', serif" font-size="15" text-anchor="start" fill="#1c1c1c" font-style="italic" stroke="#1c1c1c" stroke-width="0.33">ε</text>
<text x="160" y="544.3" font-family="'Liberation Serif', 'Times New Roman', serif" font-size="9.5" text-anchor="start" fill="#1c1c1c" stroke="#1c1c1c" stroke-width="0.33">2</text>
<text x="163.8" y="537.5" font-family="'Liberation Serif', 'Times New Roman', serif" font-size="16" text-anchor="start" fill="#1c1c1c" textLength="15.83" lengthAdjust="spacingAndGlyphs" stroke="#1c1c1c" stroke-width="0.33">=5</text>
<polygon points="129.7,555.86 134.7,555.86 132.2,559.74" fill="#fff" stroke="#1c1c1c" stroke-width="1.0" stroke-linejoin="round"/>
<text x="153.6" y="563" font-family="'Liberation Serif', 'Times New Roman', serif" font-size="15" text-anchor="start" fill="#1c1c1c" font-style="italic" stroke="#1c1c1c" stroke-width="0.33">ε</text>
<text x="160" y="569.8" font-family="'Liberation Serif', 'Times New Roman', serif" font-size="9.5" text-anchor="start" fill="#1c1c1c" stroke="#1c1c1c" stroke-width="0.33">2</text>
<text x="163.8" y="563" font-family="'Liberation Serif', 'Times New Roman', serif" font-size="16" text-anchor="start" fill="#1c1c1c" textLength="23.27" lengthAdjust="spacingAndGlyphs" stroke="#1c1c1c" stroke-width="0.33">=10</text>
<path d="M129.59,581.14L132.2,583.3L134.81,581.14M130.04,585.01L132.2,583.3L134.36,585.01" stroke="#1c1c1c" stroke-width="0.9" fill="none"/><ellipse cx="132.2" cy="583.57" rx="1.62" ry="1.8" fill="#1c1c1c"/>
<text x="153.6" y="588.5" font-family="'Liberation Serif', 'Times New Roman', serif" font-size="15" text-anchor="start" fill="#1c1c1c" font-style="italic" stroke="#1c1c1c" stroke-width="0.33">ε</text>
<text x="160" y="595.3" font-family="'Liberation Serif', 'Times New Roman', serif" font-size="9.5" text-anchor="start" fill="#1c1c1c" stroke="#1c1c1c" stroke-width="0.33">2</text>
<text x="163.8" y="588.5" font-family="'Liberation Serif', 'Times New Roman', serif" font-size="16" text-anchor="start" fill="#1c1c1c" textLength="23.27" lengthAdjust="spacingAndGlyphs" stroke="#1c1c1c" stroke-width="0.33">=20</text>
<polygon points="129.4,606.93 135,606.93 132.2,611.27" fill="#1c1c1c"/>
<text x="153.6" y="614.3" font-family="'Liberation Serif', 'Times New Roman', serif" font-size="15" text-anchor="start" fill="#1c1c1c" font-style="italic" stroke="#1c1c1c" stroke-width="0.33">ε</text>
<text x="160" y="621.1" font-family="'Liberation Serif', 'Times New Roman', serif" font-size="9.5" text-anchor="start" fill="#1c1c1c" stroke="#1c1c1c" stroke-width="0.33">2</text>
<text x="163.8" y="614.3" font-family="'Liberation Serif', 'Times New Roman', serif" font-size="16" text-anchor="start" fill="#1c1c1c" textLength="23.27" lengthAdjust="spacingAndGlyphs" stroke="#1c1c1c" stroke-width="0.33">=40</text>
<polygon points="132.2,632.2 134.2,634.2 132.2,636.2 130.2,634.2" fill="#fff" stroke="#333" stroke-width="1.0"/>
<text x="153.6" y="639.4" font-family="'Liberation Serif', 'Times New Roman', serif" font-size="15" text-anchor="start" fill="#1c1c1c" font-style="italic" stroke="#1c1c1c" stroke-width="0.33">ε</text>
<text x="160" y="646.2" font-family="'Liberation Serif', 'Times New Roman', serif" font-size="9.5" text-anchor="start" fill="#1c1c1c" stroke="#1c1c1c" stroke-width="0.33">2</text>
<text x="163.8" y="639.4" font-family="'Liberation Serif', 'Times New Roman', serif" font-size="16" text-anchor="start" fill="#1c1c1c" textLength="23.27" lengthAdjust="spacingAndGlyphs" stroke="#1c1c1c" stroke-width="0.33">=80</text>
<text x="354.6" y="444.2" font-family="'Liberation Serif', 'Times New Roman', serif" font-size="14.5" text-anchor="start" fill="#1c1c1c" font-style="italic" stroke="#1c1c1c" stroke-width="0.33">ε</text><text x="361.23" y="450.5" font-family="'Liberation Serif', 'Times New Roman', serif" font-size="6.5" text-anchor="start" fill="#1c1c1c" stroke="#1c1c1c" stroke-width="0.33">1</text><text x="363.5" y="444.2" font-family="'Liberation Serif', 'Times New Roman', serif" font-size="14.5" text-anchor="start" fill="#1c1c1c" stroke="#1c1c1c" stroke-width="0.33">/</text><text x="369.6" y="444.2" font-family="'Liberation Serif', 'Times New Roman', serif" font-size="14.5" text-anchor="start" fill="#1c1c1c" font-style="italic" stroke="#1c1c1c" stroke-width="0.33">ε</text><text x="375.5" y="450.8" font-family="'Liberation Serif', 'Times New Roman', serif" font-size="6.5" text-anchor="start" fill="#1c1c1c" stroke="#1c1c1c" stroke-width="0.33">2</text><text x="376.07" y="444.2" font-family="'Liberation Serif', 'Times New Roman', serif" font-size="14.5" text-anchor="start" fill="#1c1c1c" stroke="#1c1c1c" stroke-width="0.33">=4</text><text x="400.06" y="444.2" font-family="'Liberation Serif', 'Times New Roman', serif" font-size="14.5" text-anchor="start" fill="#1c1c1c" stroke="#1c1c1c" stroke-width="0.33">or</text><text x="417.2" y="444.2" font-family="'Liberation Serif', 'Times New Roman', serif" font-size="14.5" text-anchor="start" fill="#1c1c1c" font-style="italic" stroke="#1c1c1c" stroke-width="0.33">ε</text><text x="422.9" y="450.8" font-family="'Liberation Serif', 'Times New Roman', serif" font-size="6.5" text-anchor="start" fill="#1c1c1c" stroke="#1c1c1c" stroke-width="0.33">2</text><text x="427.4" y="444.2" font-family="'Liberation Serif', 'Times New Roman', serif" font-size="14.5" text-anchor="start" fill="#1c1c1c" stroke="#1c1c1c" stroke-width="0.33">/</text><text x="431.4" y="444.2" font-family="'Liberation Serif', 'Times New Roman', serif" font-size="14.5" text-anchor="start" fill="#1c1c1c" font-style="italic" stroke="#1c1c1c" stroke-width="0.33">ε</text><text x="437.23" y="450.5" font-family="'Liberation Serif', 'Times New Roman', serif" font-size="6.5" text-anchor="start" fill="#1c1c1c" stroke="#1c1c1c" stroke-width="0.33">1</text><text x="440.17" y="444.2" font-family="'Liberation Serif', 'Times New Roman', serif" font-size="14.5" text-anchor="start" fill="#1c1c1c" stroke="#1c1c1c" stroke-width="0.33">=4</text>
<text x="356.9" y="622.3" font-family="'Liberation Serif', 'Times New Roman', serif" font-size="14.5" text-anchor="start" fill="#1c1c1c" font-style="italic" stroke="#1c1c1c" stroke-width="0.33">ε</text><text x="362.93" y="628.6" font-family="'Liberation Serif', 'Times New Roman', serif" font-size="6.5" text-anchor="start" fill="#1c1c1c" stroke="#1c1c1c" stroke-width="0.33">1</text><text x="365.8" y="622.3" font-family="'Liberation Serif', 'Times New Roman', serif" font-size="14.5" text-anchor="start" fill="#1c1c1c" stroke="#1c1c1c" stroke-width="0.33">/</text><text x="370.7" y="622.3" font-family="'Liberation Serif', 'Times New Roman', serif" font-size="14.5" text-anchor="start" fill="#1c1c1c" font-style="italic" stroke="#1c1c1c" stroke-width="0.33">ε</text><text x="378.11" y="628.9" font-family="'Liberation Serif', 'Times New Roman', serif" font-size="6.5" text-anchor="start" fill="#1c1c1c" stroke="#1c1c1c" stroke-width="0.33">2</text><text x="380.07" y="622.3" font-family="'Liberation Serif', 'Times New Roman', serif" font-size="14.5" text-anchor="start" fill="#1c1c1c" stroke="#1c1c1c" stroke-width="0.33">=2</text><text x="401.26" y="622.3" font-family="'Liberation Serif', 'Times New Roman', serif" font-size="14.5" text-anchor="start" fill="#1c1c1c" stroke="#1c1c1c" stroke-width="0.33">or</text><text x="418" y="622.3" font-family="'Liberation Serif', 'Times New Roman', serif" font-size="14.5" text-anchor="start" fill="#1c1c1c" font-style="italic" stroke="#1c1c1c" stroke-width="0.33">ε</text><text x="424.31" y="628.9" font-family="'Liberation Serif', 'Times New Roman', serif" font-size="6.5" text-anchor="start" fill="#1c1c1c" stroke="#1c1c1c" stroke-width="0.33">2</text><text x="426.9" y="622.3" font-family="'Liberation Serif', 'Times New Roman', serif" font-size="14.5" text-anchor="start" fill="#1c1c1c" stroke="#1c1c1c" stroke-width="0.33">/</text><text x="433.4" y="622.3" font-family="'Liberation Serif', 'Times New Roman', serif" font-size="14.5" text-anchor="start" fill="#1c1c1c" font-style="italic" stroke="#1c1c1c" stroke-width="0.33">ε</text><text x="440.43" y="628.6" font-family="'Liberation Serif', 'Times New Roman', serif" font-size="6.5" text-anchor="start" fill="#1c1c1c" stroke="#1c1c1c" stroke-width="0.33">1</text><text x="442.17" y="622.3" font-family="'Liberation Serif', 'Times New Roman', serif" font-size="14.5" text-anchor="start" fill="#1c1c1c" stroke="#1c1c1c" stroke-width="0.33">=2</text>
<text x="358" y="702" font-family="'Liberation Serif', 'Times New Roman', serif" font-size="14.5" text-anchor="start" fill="#1c1c1c" font-style="italic" stroke="#1c1c1c" stroke-width="0.33">ε</text><text x="363.93" y="708.3" font-family="'Liberation Serif', 'Times New Roman', serif" font-size="6.5" text-anchor="start" fill="#1c1c1c" stroke="#1c1c1c" stroke-width="0.33">1</text><text x="365.8" y="702" font-family="'Liberation Serif', 'Times New Roman', serif" font-size="14.5" text-anchor="start" fill="#1c1c1c" stroke="#1c1c1c" stroke-width="0.33">/</text><text x="371.9" y="702" font-family="'Liberation Serif', 'Times New Roman', serif" font-size="14.5" text-anchor="start" fill="#1c1c1c" font-style="italic" stroke="#1c1c1c" stroke-width="0.33">ε</text><text x="377.71" y="708.6" font-family="'Liberation Serif', 'Times New Roman', serif" font-size="6.5" text-anchor="start" fill="#1c1c1c" stroke="#1c1c1c" stroke-width="0.33">2</text><text x="381.07" y="702" font-family="'Liberation Serif', 'Times New Roman', serif" font-size="14.5" text-anchor="start" fill="#1c1c1c" stroke="#1c1c1c" stroke-width="0.33">=1</text><text x="401.47" y="702" font-family="'Liberation Serif', 'Times New Roman', serif" font-size="14.5" text-anchor="start" fill="#1c1c1c" stroke="#1c1c1c" stroke-width="0.33">or</text><text x="419.6" y="702" font-family="'Liberation Serif', 'Times New Roman', serif" font-size="14.5" text-anchor="start" fill="#1c1c1c" font-style="italic" stroke="#1c1c1c" stroke-width="0.33">ε</text><text x="425.2" y="708.6" font-family="'Liberation Serif', 'Times New Roman', serif" font-size="6.5" text-anchor="start" fill="#1c1c1c" stroke="#1c1c1c" stroke-width="0.33">2</text><text x="429.1" y="702" font-family="'Liberation Serif', 'Times New Roman', serif" font-size="14.5" text-anchor="start" fill="#1c1c1c" stroke="#1c1c1c" stroke-width="0.33">/</text><text x="434.7" y="702" font-family="'Liberation Serif', 'Times New Roman', serif" font-size="14.5" text-anchor="start" fill="#1c1c1c" font-style="italic" stroke="#1c1c1c" stroke-width="0.33">ε</text><text x="441.13" y="708.3" font-family="'Liberation Serif', 'Times New Roman', serif" font-size="6.5" text-anchor="start" fill="#1c1c1c" stroke="#1c1c1c" stroke-width="0.33">1</text><text x="443.77" y="702" font-family="'Liberation Serif', 'Times New Roman', serif" font-size="14.5" text-anchor="start" fill="#1c1c1c" stroke="#1c1c1c" stroke-width="0.33">=1</text>
</svg></body></html>
